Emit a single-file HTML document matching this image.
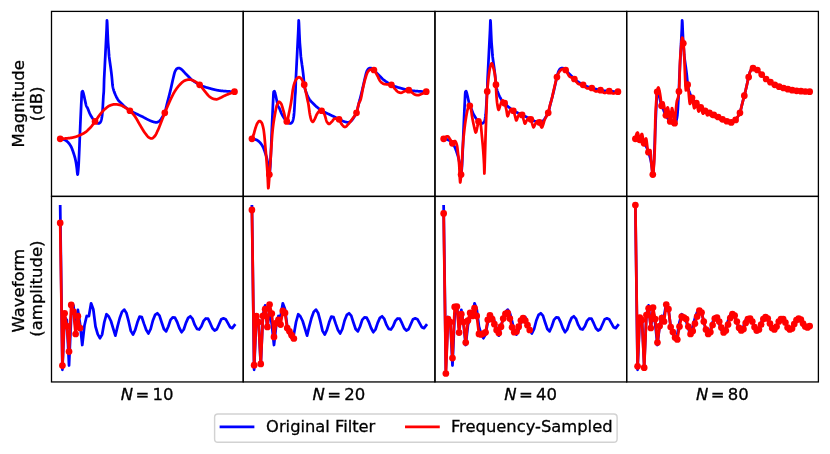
<!DOCTYPE html>
<html><head><meta charset="utf-8"><title>Frequency-Sampled Filter</title>
<style>html,body{margin:0;padding:0;background:#fff}svg{display:block}</style></head>
<body>
<svg width="830" height="454" viewBox="0 0 830 454">
<rect width="830" height="454" fill="#fff"/>
<g fill="none" stroke-width="2.75" stroke-linejoin="round" stroke-linecap="square">
<path d="M60.20 138.80 L60.45 138.83 L60.70 138.86 L60.95 138.90 L61.20 138.94 L61.45 138.98 L61.70 139.03 L61.95 139.08 L62.20 139.13 L62.45 139.19 L62.50 139.20 L62.70 139.25 L62.95 139.31 L63.20 139.37 L63.45 139.44 L63.70 139.52 L63.95 139.60 L64.20 139.68 L64.45 139.77 L64.70 139.87 L64.95 139.98 L65.00 140.00 L65.20 140.10 L65.45 140.23 L65.70 140.38 L65.95 140.55 L66.20 140.73 L66.45 140.93 L66.70 141.13 L66.95 141.34 L67.20 141.56 L67.45 141.79 L67.70 142.02 L67.95 142.25 L68.00 142.30 L68.20 142.50 L68.45 142.76 L68.70 143.05 L68.90 143.30 L68.95 143.36 L69.20 143.69 L69.45 144.02 L69.70 144.37 L69.95 144.73 L70.20 145.12 L70.45 145.52 L70.70 145.95 L70.95 146.41 L71.00 146.50 L71.20 146.89 L71.45 147.42 L71.70 147.99 L71.95 148.59 L72.20 149.23 L72.45 149.89 L72.70 150.58 L72.95 151.29 L73.20 152.01 L73.30 152.30 L73.45 152.74 L73.70 153.49 L73.95 154.25 L74.20 155.04 L74.45 155.87 L74.70 156.75 L74.95 157.69 L75.20 158.69 L75.45 159.77 L75.50 160.00 L75.70 160.98 L75.95 162.36 L76.20 163.90 L76.45 165.55 L76.70 167.29 L76.80 168.00 L76.95 169.32 L77.20 172.01 L77.45 174.15 L77.60 174.60 L77.70 174.44 L77.95 172.91 L78.20 170.33 L78.40 168.00 L78.45 167.38 L78.70 163.30 L78.95 158.04 L79.20 152.29 L79.30 150.00 L79.45 146.40 L79.70 139.82 L79.95 133.24 L80.00 132.00 L80.20 127.19 L80.45 121.38 L80.60 118.00 L80.70 115.77 L80.95 110.28 L81.20 105.00 L81.40 101.00 L81.45 99.97 L81.70 94.40 L81.90 92.00 L81.95 91.89 L82.20 91.46 L82.45 91.24 L82.60 91.20 L82.70 91.26 L82.95 91.83 L83.20 92.67 L83.30 93.00 L83.45 93.50 L83.70 94.45 L83.95 95.51 L84.20 96.65 L84.45 97.81 L84.70 98.98 L84.95 100.09 L85.00 100.30 L85.20 101.18 L85.45 102.34 L85.70 103.49 L85.95 104.54 L86.20 105.42 L86.30 105.70 L86.45 106.06 L86.70 106.57 L86.95 107.01 L87.20 107.43 L87.45 107.90 L87.50 108.00 L87.70 108.44 L87.95 109.02 L88.20 109.63 L88.45 110.27 L88.70 110.91 L88.95 111.55 L89.20 112.18 L89.45 112.79 L89.70 113.37 L89.95 113.90 L90.00 114.00 L90.20 114.39 L90.45 114.87 L90.70 115.33 L90.95 115.78 L91.20 116.22 L91.45 116.64 L91.70 117.05 L91.95 117.45 L92.20 117.84 L92.45 118.22 L92.70 118.58 L92.95 118.93 L93.00 119.00 L93.20 119.27 L93.45 119.60 L93.70 119.92 L93.95 120.23 L94.20 120.53 L94.45 120.82 L94.70 121.09 L94.95 121.35 L95.10 121.50 L95.20 121.60 L95.45 121.85 L95.70 122.08 L95.95 122.31 L96.20 122.50 L96.45 122.67 L96.50 122.70 L96.70 122.81 L96.95 122.95 L97.20 123.09 L97.45 123.22 L97.70 123.33 L97.95 123.41 L98.20 123.47 L98.45 123.50 L98.50 123.50 L98.70 123.48 L98.95 123.41 L99.20 123.29 L99.45 123.13 L99.70 122.94 L99.95 122.74 L100.00 122.70 L100.20 122.50 L100.45 122.14 L100.70 121.68 L100.95 121.12 L101.00 121.00 L101.20 120.42 L101.45 119.48 L101.70 118.27 L101.95 116.78 L102.20 115.00 L102.45 112.21 L102.70 108.30 L102.90 105.00 L102.95 104.16 L103.20 99.45 L103.40 96.00 L103.45 95.33 L103.70 92.58 L103.80 91.00 L103.95 85.78 L104.10 80.00 L104.20 77.58 L104.45 72.79 L104.60 70.00 L104.70 68.00 L104.95 63.00 L105.10 60.00 L105.20 58.00 L105.45 53.00 L105.60 50.00 L105.70 48.00 L105.95 43.00 L106.10 40.00 L106.20 38.03 L106.45 33.15 L106.60 30.00 L106.70 27.25 L106.95 20.60 L107.00 20.30 L107.20 22.74 L107.45 28.91 L107.50 30.00 L107.70 34.44 L107.95 40.07 L108.10 42.80 L108.20 44.20 L108.45 47.02 L108.70 50.00 L108.95 54.33 L109.00 55.00 L109.20 56.98 L109.45 58.89 L109.60 60.00 L109.70 60.76 L109.95 62.55 L110.20 64.29 L110.30 65.00 L110.45 66.06 L110.70 67.80 L110.95 69.62 L111.00 70.00 L111.20 71.58 L111.45 73.67 L111.60 75.00 L111.70 75.93 L111.95 78.43 L112.10 80.00 L112.20 81.15 L112.45 84.24 L112.60 85.60 L112.70 86.23 L112.95 87.55 L113.20 88.60 L113.45 89.49 L113.60 90.00 L113.70 90.33 L113.95 91.11 L114.20 91.83 L114.45 92.50 L114.70 93.13 L114.95 93.73 L115.20 94.31 L115.45 94.88 L115.50 95.00 L115.70 95.45 L115.95 96.00 L116.20 96.53 L116.45 97.03 L116.70 97.51 L116.80 97.70 L116.95 97.98 L117.20 98.43 L117.45 98.88 L117.70 99.31 L117.95 99.71 L118.20 100.09 L118.45 100.44 L118.50 100.50 L118.70 100.75 L118.95 101.03 L119.20 101.30 L119.45 101.56 L119.70 101.80 L119.95 102.03 L120.20 102.26 L120.45 102.49 L120.70 102.72 L120.95 102.96 L121.20 103.20 L121.45 103.45 L121.70 103.71 L121.95 103.96 L122.20 104.22 L122.45 104.48 L122.70 104.73 L122.95 104.99 L123.20 105.24 L123.45 105.48 L123.70 105.72 L123.95 105.95 L124.00 106.00 L124.20 106.18 L124.45 106.40 L124.70 106.62 L124.95 106.83 L125.20 107.04 L125.45 107.25 L125.70 107.46 L125.95 107.66 L126.20 107.86 L126.45 108.06 L126.70 108.26 L126.95 108.46 L127.00 108.50 L127.20 108.66 L127.45 108.87 L127.70 109.07 L127.95 109.28 L128.20 109.48 L128.45 109.69 L128.70 109.89 L128.95 110.08 L129.20 110.27 L129.45 110.44 L129.70 110.61 L129.95 110.77 L130.00 110.80 L130.20 110.92 L130.45 111.06 L130.70 111.19 L130.95 111.32 L131.20 111.44 L131.45 111.56 L131.70 111.67 L131.95 111.79 L132.20 111.90 L132.45 112.01 L132.70 112.12 L132.95 112.22 L133.20 112.33 L133.45 112.45 L133.70 112.56 L133.95 112.68 L134.00 112.70 L134.20 112.80 L134.45 112.91 L134.70 113.03 L134.95 113.15 L135.20 113.27 L135.45 113.39 L135.70 113.51 L135.95 113.63 L136.20 113.75 L136.45 113.87 L136.70 113.99 L136.95 114.11 L137.20 114.23 L137.45 114.35 L137.70 114.47 L137.95 114.59 L138.20 114.71 L138.45 114.83 L138.60 114.90 L138.70 114.95 L138.95 115.07 L139.20 115.18 L139.45 115.30 L139.70 115.42 L139.95 115.54 L140.20 115.65 L140.45 115.77 L140.70 115.89 L140.95 116.01 L141.20 116.12 L141.45 116.24 L141.70 116.36 L141.95 116.48 L142.20 116.60 L142.45 116.73 L142.70 116.85 L142.95 116.97 L143.00 117.00 L143.20 117.10 L143.45 117.23 L143.70 117.36 L143.95 117.50 L144.20 117.63 L144.45 117.77 L144.70 117.91 L144.95 118.05 L145.20 118.18 L145.45 118.32 L145.70 118.46 L145.95 118.60 L146.20 118.73 L146.45 118.86 L146.70 119.00 L146.95 119.12 L147.20 119.25 L147.30 119.30 L147.45 119.37 L147.70 119.50 L147.95 119.62 L148.20 119.74 L148.45 119.87 L148.70 119.99 L148.95 120.11 L149.20 120.22 L149.45 120.34 L149.70 120.45 L149.95 120.57 L150.20 120.67 L150.45 120.78 L150.70 120.88 L150.95 120.98 L151.00 121.00 L151.20 121.08 L151.45 121.17 L151.70 121.27 L151.95 121.36 L152.20 121.45 L152.45 121.54 L152.70 121.63 L152.95 121.71 L153.20 121.79 L153.45 121.86 L153.70 121.93 L153.95 121.99 L154.00 122.00 L154.20 122.05 L154.45 122.11 L154.70 122.16 L154.95 122.22 L155.20 122.27 L155.45 122.32 L155.70 122.36 L155.95 122.39 L156.20 122.40 L156.30 122.40 L156.45 122.40 L156.70 122.37 L156.95 122.32 L157.20 122.25 L157.45 122.16 L157.70 122.07 L157.95 121.96 L158.20 121.84 L158.45 121.72 L158.50 121.70 L158.70 121.59 L158.95 121.42 L159.20 121.21 L159.45 120.97 L159.70 120.71 L159.95 120.44 L160.20 120.15 L160.45 119.86 L160.50 119.80 L160.70 119.56 L160.95 119.22 L161.20 118.87 L161.45 118.49 L161.70 118.10 L161.95 117.69 L162.20 117.29 L162.45 116.88 L162.50 116.80 L162.70 116.49 L162.95 116.11 L163.20 115.74 L163.45 115.36 L163.70 114.97 L163.95 114.55 L164.20 114.10 L164.45 113.60 L164.70 113.04 L164.80 112.80 L164.95 112.39 L165.20 111.56 L165.45 110.58 L165.70 109.50 L165.95 108.38 L166.20 107.27 L166.45 106.20 L166.50 106.00 L166.70 105.20 L166.95 104.19 L167.20 103.19 L167.45 102.18 L167.70 101.18 L167.95 100.20 L168.00 100.00 L168.20 99.22 L168.45 98.27 L168.70 97.32 L168.95 96.36 L169.20 95.39 L169.30 95.00 L169.45 94.40 L169.70 93.40 L169.95 92.38 L170.20 91.35 L170.45 90.31 L170.70 89.27 L170.95 88.21 L171.00 88.00 L171.20 87.14 L171.45 86.04 L171.70 84.92 L171.95 83.78 L172.20 82.64 L172.45 81.51 L172.70 80.39 L172.95 79.29 L173.20 78.22 L173.45 77.20 L173.50 77.00 L173.70 76.19 L173.95 75.14 L174.20 74.10 L174.45 73.14 L174.70 72.29 L174.95 71.61 L175.00 71.50 L175.20 71.08 L175.45 70.59 L175.70 70.14 L175.95 69.73 L176.20 69.37 L176.45 69.06 L176.70 68.81 L176.95 68.63 L177.00 68.60 L177.20 68.49 L177.45 68.37 L177.70 68.26 L177.95 68.16 L178.20 68.08 L178.45 68.03 L178.70 68.00 L178.80 68.00 L178.95 68.01 L179.20 68.06 L179.45 68.15 L179.70 68.26 L179.95 68.39 L180.20 68.53 L180.45 68.67 L180.50 68.70 L180.70 68.81 L180.95 68.98 L181.20 69.16 L181.45 69.36 L181.70 69.56 L181.95 69.78 L182.20 70.00 L182.45 70.23 L182.70 70.47 L182.95 70.73 L183.20 71.00 L183.45 71.28 L183.70 71.56 L183.95 71.84 L184.20 72.13 L184.45 72.41 L184.70 72.68 L184.95 72.95 L185.00 73.00 L185.20 73.21 L185.45 73.46 L185.70 73.71 L185.95 73.96 L186.20 74.21 L186.45 74.46 L186.70 74.70 L186.95 74.95 L187.20 75.20 L187.45 75.45 L187.70 75.70 L187.95 75.95 L188.00 76.00 L188.20 76.21 L188.45 76.47 L188.70 76.74 L188.95 77.01 L189.20 77.28 L189.45 77.55 L189.70 77.82 L189.95 78.09 L190.20 78.34 L190.45 78.59 L190.70 78.82 L190.90 79.00 L190.95 79.04 L191.20 79.26 L191.45 79.46 L191.70 79.66 L191.95 79.86 L192.20 80.05 L192.45 80.24 L192.70 80.42 L192.95 80.60 L193.20 80.78 L193.45 80.95 L193.70 81.13 L193.95 81.30 L194.20 81.47 L194.45 81.63 L194.70 81.80 L194.95 81.97 L195.00 82.00 L195.20 82.13 L195.45 82.30 L195.70 82.47 L195.95 82.63 L196.20 82.80 L196.45 82.96 L196.70 83.12 L196.95 83.28 L197.20 83.44 L197.45 83.59 L197.70 83.75 L197.95 83.90 L198.20 84.04 L198.45 84.19 L198.70 84.33 L198.95 84.47 L199.20 84.60 L199.45 84.73 L199.60 84.80 L199.70 84.85 L199.95 84.97 L200.20 85.09 L200.45 85.20 L200.70 85.32 L200.95 85.43 L201.20 85.54 L201.45 85.65 L201.70 85.76 L201.95 85.86 L202.20 85.96 L202.45 86.06 L202.70 86.16 L202.95 86.26 L203.20 86.36 L203.45 86.45 L203.70 86.54 L203.95 86.63 L204.20 86.72 L204.45 86.81 L204.70 86.90 L204.95 86.98 L205.00 87.00 L205.20 87.07 L205.45 87.15 L205.70 87.23 L205.95 87.30 L206.20 87.38 L206.45 87.45 L206.70 87.52 L206.95 87.59 L207.20 87.66 L207.45 87.73 L207.70 87.80 L207.95 87.87 L208.20 87.94 L208.40 88.00 L208.45 88.01 L208.70 88.09 L208.95 88.16 L209.20 88.23 L209.45 88.30 L209.70 88.37 L209.95 88.44 L210.20 88.51 L210.45 88.58 L210.70 88.65 L210.95 88.72 L211.20 88.79 L211.45 88.86 L211.70 88.92 L211.95 88.99 L212.00 89.00 L212.20 89.05 L212.45 89.12 L212.70 89.18 L212.95 89.24 L213.20 89.31 L213.45 89.37 L213.70 89.43 L213.95 89.50 L214.20 89.56 L214.45 89.62 L214.70 89.68 L214.95 89.74 L215.20 89.80 L215.45 89.86 L215.70 89.91 L215.95 89.97 L216.20 90.02 L216.45 90.07 L216.70 90.12 L216.95 90.17 L217.10 90.20 L217.20 90.22 L217.45 90.26 L217.70 90.31 L217.95 90.35 L218.20 90.40 L218.45 90.44 L218.70 90.48 L218.95 90.52 L219.20 90.56 L219.45 90.60 L219.70 90.63 L219.95 90.67 L220.20 90.70 L220.45 90.74 L220.70 90.77 L220.95 90.79 L221.00 90.80 L221.20 90.82 L221.45 90.85 L221.70 90.87 L221.95 90.90 L222.20 90.92 L222.45 90.94 L222.70 90.96 L222.95 90.98 L223.20 91.00 L223.45 91.02 L223.70 91.04 L223.95 91.06 L224.20 91.08 L224.45 91.10 L224.70 91.12 L224.95 91.14 L225.20 91.15 L225.45 91.17 L225.70 91.19 L225.80 91.20 L225.95 91.21 L226.20 91.23 L226.45 91.25 L226.70 91.27 L226.95 91.29 L227.20 91.31 L227.45 91.33 L227.70 91.35 L227.95 91.37 L228.20 91.38 L228.45 91.40 L228.70 91.42 L228.95 91.44 L229.20 91.45 L229.45 91.47 L229.70 91.48 L229.95 91.50 L230.00 91.50 L230.20 91.51 L230.45 91.52 L230.70 91.54 L230.95 91.55 L231.20 91.56 L231.45 91.58 L231.70 91.59 L231.95 91.60 L232.20 91.61 L232.45 91.62 L232.70 91.63 L232.95 91.64 L233.20 91.65 L233.45 91.66 L233.70 91.67 L233.95 91.68 L234.20 91.69 L234.45 91.70 L234.50 91.70" stroke="#0000ff"/>
<path d="M60.20 138.80 L60.45 138.79 L60.70 138.78 L60.95 138.76 L61.20 138.75 L61.45 138.74 L61.70 138.72 L61.95 138.71 L62.20 138.69 L62.45 138.68 L62.70 138.66 L62.95 138.65 L63.20 138.63 L63.45 138.61 L63.70 138.60 L63.95 138.58 L64.20 138.56 L64.45 138.54 L64.70 138.52 L64.95 138.50 L65.00 138.50 L65.20 138.48 L65.45 138.46 L65.70 138.44 L65.95 138.42 L66.20 138.40 L66.45 138.38 L66.70 138.36 L66.95 138.34 L67.20 138.31 L67.45 138.29 L67.70 138.27 L67.95 138.24 L68.20 138.21 L68.45 138.19 L68.70 138.16 L68.95 138.13 L69.20 138.10 L69.45 138.07 L69.70 138.04 L69.95 138.01 L70.00 138.00 L70.20 137.97 L70.45 137.94 L70.70 137.90 L70.95 137.86 L71.20 137.82 L71.45 137.78 L71.70 137.73 L71.95 137.69 L72.20 137.64 L72.45 137.59 L72.70 137.54 L72.95 137.49 L73.20 137.43 L73.45 137.38 L73.70 137.32 L73.95 137.26 L74.20 137.20 L74.45 137.14 L74.70 137.08 L74.95 137.01 L75.00 137.00 L75.20 136.95 L75.45 136.88 L75.70 136.80 L75.95 136.72 L76.20 136.64 L76.45 136.55 L76.70 136.46 L76.95 136.37 L77.20 136.28 L77.45 136.18 L77.70 136.08 L77.95 135.98 L78.20 135.88 L78.45 135.77 L78.70 135.67 L78.95 135.56 L79.20 135.45 L79.45 135.34 L79.70 135.23 L79.95 135.12 L80.00 135.10 L80.20 135.01 L80.45 134.90 L80.70 134.79 L80.95 134.68 L81.20 134.56 L81.45 134.45 L81.70 134.33 L81.95 134.21 L82.20 134.09 L82.45 133.96 L82.70 133.84 L82.95 133.71 L83.20 133.57 L83.45 133.44 L83.70 133.30 L83.95 133.15 L84.20 133.00 L84.45 132.85 L84.70 132.69 L84.95 132.53 L85.00 132.50 L85.20 132.37 L85.45 132.19 L85.70 132.01 L85.95 131.82 L86.20 131.62 L86.45 131.42 L86.70 131.21 L86.95 130.99 L87.20 130.77 L87.45 130.54 L87.70 130.31 L87.95 130.07 L88.20 129.83 L88.45 129.59 L88.70 129.34 L88.95 129.09 L89.20 128.83 L89.45 128.57 L89.70 128.31 L89.95 128.05 L90.00 128.00 L90.20 127.79 L90.45 127.51 L90.70 127.23 L90.95 126.95 L91.20 126.65 L91.45 126.35 L91.70 126.05 L91.95 125.73 L92.20 125.42 L92.45 125.10 L92.70 124.77 L92.95 124.45 L93.20 124.12 L93.45 123.78 L93.70 123.45 L93.95 123.11 L94.20 122.78 L94.45 122.44 L94.70 122.10 L94.95 121.77 L95.00 121.70 L95.20 121.43 L95.45 121.08 L95.70 120.73 L95.95 120.36 L96.20 120.00 L96.45 119.62 L96.70 119.25 L96.95 118.87 L97.20 118.49 L97.45 118.12 L97.70 117.74 L97.95 117.36 L98.20 116.99 L98.45 116.62 L98.70 116.26 L98.95 115.90 L99.20 115.55 L99.45 115.21 L99.70 114.88 L99.95 114.56 L100.00 114.50 L100.20 114.25 L100.45 113.94 L100.70 113.63 L100.95 113.33 L101.20 113.02 L101.45 112.72 L101.70 112.43 L101.95 112.13 L102.20 111.85 L102.45 111.56 L102.70 111.28 L102.95 111.01 L103.20 110.74 L103.45 110.48 L103.70 110.22 L103.95 109.97 L104.20 109.73 L104.45 109.49 L104.70 109.26 L104.95 109.04 L105.00 109.00 L105.20 108.83 L105.45 108.61 L105.70 108.40 L105.95 108.19 L106.20 107.98 L106.45 107.77 L106.70 107.56 L106.95 107.36 L107.20 107.17 L107.45 106.98 L107.70 106.79 L107.95 106.61 L108.20 106.44 L108.45 106.28 L108.70 106.13 L108.95 105.98 L109.20 105.85 L109.45 105.73 L109.70 105.62 L109.95 105.52 L110.00 105.50 L110.20 105.43 L110.45 105.34 L110.70 105.25 L110.95 105.16 L111.20 105.08 L111.45 104.99 L111.70 104.91 L111.95 104.84 L112.20 104.76 L112.45 104.69 L112.70 104.62 L112.95 104.56 L113.20 104.51 L113.45 104.46 L113.70 104.41 L113.95 104.37 L114.20 104.34 L114.45 104.32 L114.70 104.31 L114.95 104.30 L115.00 104.30 L115.20 104.30 L115.45 104.31 L115.70 104.32 L115.95 104.33 L116.20 104.35 L116.45 104.38 L116.70 104.40 L116.95 104.43 L117.20 104.47 L117.45 104.51 L117.70 104.55 L117.95 104.59 L118.20 104.63 L118.45 104.68 L118.70 104.73 L118.95 104.78 L119.20 104.83 L119.45 104.88 L119.70 104.93 L119.95 104.99 L120.00 105.00 L120.20 105.05 L120.45 105.12 L120.70 105.20 L120.95 105.29 L121.20 105.39 L121.45 105.50 L121.70 105.62 L121.95 105.74 L122.20 105.87 L122.45 106.00 L122.70 106.14 L122.95 106.29 L123.20 106.43 L123.45 106.58 L123.70 106.73 L123.95 106.88 L124.20 107.03 L124.45 107.18 L124.70 107.33 L124.95 107.47 L125.00 107.50 L125.20 107.61 L125.45 107.76 L125.70 107.90 L125.95 108.04 L126.20 108.19 L126.45 108.34 L126.70 108.49 L126.95 108.64 L127.20 108.79 L127.45 108.95 L127.70 109.11 L127.95 109.28 L128.20 109.44 L128.45 109.62 L128.70 109.79 L128.95 109.98 L129.20 110.16 L129.45 110.36 L129.70 110.55 L129.95 110.76 L130.00 110.80 L130.20 110.97 L130.45 111.19 L130.70 111.42 L130.95 111.66 L131.20 111.91 L131.45 112.16 L131.70 112.43 L131.95 112.70 L132.20 112.98 L132.45 113.26 L132.70 113.55 L132.95 113.85 L133.20 114.16 L133.45 114.47 L133.70 114.78 L133.95 115.10 L134.20 115.43 L134.45 115.76 L134.70 116.09 L134.95 116.43 L135.00 116.50 L135.20 116.78 L135.45 117.14 L135.70 117.52 L135.95 117.91 L136.20 118.32 L136.45 118.74 L136.70 119.16 L136.95 119.60 L137.20 120.04 L137.45 120.48 L137.70 120.93 L137.95 121.39 L138.20 121.84 L138.45 122.29 L138.70 122.74 L138.95 123.19 L139.20 123.63 L139.45 124.07 L139.70 124.50 L139.95 124.92 L140.00 125.00 L140.20 125.33 L140.45 125.75 L140.70 126.17 L140.95 126.59 L141.20 127.02 L141.45 127.44 L141.70 127.87 L141.95 128.29 L142.20 128.71 L142.45 129.13 L142.70 129.54 L142.95 129.95 L143.20 130.35 L143.45 130.75 L143.70 131.14 L143.95 131.52 L144.20 131.89 L144.45 132.25 L144.70 132.60 L144.95 132.93 L145.00 133.00 L145.20 133.26 L145.45 133.60 L145.70 133.93 L145.95 134.27 L146.20 134.60 L146.45 134.93 L146.70 135.25 L146.95 135.56 L147.20 135.86 L147.45 136.15 L147.70 136.42 L147.95 136.67 L148.20 136.91 L148.45 137.12 L148.70 137.31 L148.95 137.47 L149.00 137.50 L149.20 137.61 L149.45 137.76 L149.70 137.90 L149.95 138.03 L150.20 138.15 L150.45 138.26 L150.70 138.36 L150.95 138.43 L151.20 138.48 L151.45 138.50 L151.50 138.50 L151.70 138.49 L151.95 138.43 L152.20 138.35 L152.45 138.22 L152.70 138.08 L152.95 137.90 L153.20 137.71 L153.45 137.49 L153.70 137.27 L153.95 137.03 L154.20 136.79 L154.45 136.55 L154.50 136.50 L154.70 136.29 L154.95 135.98 L155.20 135.63 L155.45 135.23 L155.70 134.80 L155.95 134.34 L156.20 133.86 L156.45 133.35 L156.70 132.82 L156.95 132.28 L157.20 131.74 L157.45 131.19 L157.70 130.64 L157.95 130.11 L158.00 130.00 L158.20 129.57 L158.45 129.01 L158.70 128.43 L158.95 127.84 L159.20 127.23 L159.45 126.61 L159.70 125.98 L159.95 125.34 L160.20 124.69 L160.45 124.03 L160.70 123.38 L160.95 122.72 L161.20 122.07 L161.45 121.41 L161.70 120.77 L161.95 120.13 L162.00 120.00 L162.20 119.49 L162.45 118.85 L162.70 118.20 L162.95 117.55 L163.20 116.89 L163.45 116.24 L163.70 115.59 L163.95 114.94 L164.20 114.30 L164.45 113.67 L164.70 113.05 L164.80 112.80 L164.95 112.43 L165.20 111.82 L165.45 111.22 L165.70 110.62 L165.95 110.03 L166.20 109.43 L166.45 108.85 L166.70 108.26 L166.95 107.68 L167.20 107.10 L167.45 106.53 L167.70 105.95 L167.95 105.38 L168.20 104.81 L168.45 104.24 L168.70 103.68 L168.95 103.11 L169.00 103.00 L169.20 102.55 L169.45 101.98 L169.70 101.41 L169.95 100.85 L170.20 100.29 L170.45 99.73 L170.70 99.18 L170.95 98.65 L171.20 98.12 L171.45 97.60 L171.50 97.50 L171.70 97.10 L171.95 96.59 L172.20 96.09 L172.45 95.59 L172.70 95.10 L172.95 94.61 L173.20 94.14 L173.45 93.66 L173.70 93.20 L173.95 92.75 L174.20 92.31 L174.45 91.89 L174.70 91.48 L174.95 91.08 L175.00 91.00 L175.20 90.69 L175.45 90.31 L175.70 89.94 L175.95 89.57 L176.20 89.20 L176.45 88.84 L176.70 88.49 L176.95 88.14 L177.20 87.80 L177.45 87.47 L177.70 87.14 L177.95 86.82 L178.20 86.51 L178.45 86.21 L178.70 85.91 L178.95 85.62 L179.20 85.34 L179.45 85.07 L179.70 84.80 L179.95 84.55 L180.00 84.50 L180.20 84.30 L180.45 84.05 L180.70 83.80 L180.95 83.55 L181.20 83.31 L181.45 83.06 L181.70 82.83 L181.95 82.59 L182.20 82.36 L182.45 82.14 L182.70 81.93 L182.95 81.72 L183.20 81.53 L183.45 81.34 L183.70 81.17 L183.95 81.01 L184.20 80.86 L184.45 80.73 L184.70 80.62 L184.95 80.52 L185.00 80.50 L185.20 80.43 L185.45 80.35 L185.70 80.26 L185.95 80.18 L186.20 80.10 L186.45 80.03 L186.70 79.95 L186.95 79.88 L187.20 79.82 L187.45 79.76 L187.70 79.70 L187.95 79.65 L188.20 79.61 L188.45 79.57 L188.70 79.54 L188.95 79.52 L189.20 79.51 L189.45 79.50 L189.50 79.50 L189.70 79.50 L189.95 79.52 L190.20 79.56 L190.45 79.60 L190.70 79.66 L190.95 79.73 L191.20 79.80 L191.45 79.89 L191.70 79.98 L191.95 80.08 L192.20 80.18 L192.45 80.29 L192.70 80.41 L192.95 80.52 L193.20 80.64 L193.45 80.75 L193.70 80.87 L193.95 80.98 L194.00 81.00 L194.20 81.09 L194.45 81.21 L194.70 81.33 L194.95 81.46 L195.20 81.60 L195.45 81.74 L195.70 81.89 L195.95 82.04 L196.20 82.20 L196.45 82.37 L196.70 82.53 L196.95 82.71 L197.20 82.89 L197.45 83.07 L197.70 83.26 L197.95 83.45 L198.20 83.65 L198.45 83.85 L198.70 84.05 L198.95 84.26 L199.20 84.47 L199.45 84.69 L199.70 84.91 L199.80 85.00 L199.95 85.14 L200.20 85.38 L200.45 85.64 L200.70 85.92 L200.95 86.20 L201.20 86.51 L201.45 86.82 L201.70 87.14 L201.95 87.47 L202.20 87.80 L202.45 88.14 L202.70 88.48 L202.95 88.82 L203.20 89.17 L203.45 89.51 L203.70 89.85 L203.95 90.18 L204.20 90.51 L204.45 90.83 L204.70 91.14 L204.95 91.44 L205.00 91.50 L205.20 91.74 L205.45 92.04 L205.70 92.34 L205.95 92.65 L206.20 92.96 L206.45 93.27 L206.70 93.58 L206.95 93.89 L207.20 94.20 L207.45 94.50 L207.70 94.79 L207.95 95.08 L208.20 95.36 L208.45 95.63 L208.70 95.89 L208.95 96.13 L209.20 96.37 L209.45 96.58 L209.70 96.78 L209.95 96.97 L210.00 97.00 L210.20 97.14 L210.45 97.30 L210.70 97.47 L210.95 97.63 L211.20 97.78 L211.45 97.94 L211.70 98.08 L211.95 98.22 L212.20 98.35 L212.45 98.47 L212.70 98.59 L212.95 98.69 L213.20 98.78 L213.45 98.87 L213.70 98.93 L213.95 98.99 L214.00 99.00 L214.20 99.04 L214.45 99.08 L214.70 99.12 L214.95 99.16 L215.20 99.20 L215.45 99.23 L215.70 99.26 L215.95 99.28 L216.20 99.29 L216.45 99.30 L216.50 99.30 L216.70 99.29 L216.95 99.26 L217.20 99.21 L217.45 99.14 L217.70 99.06 L217.95 98.96 L218.20 98.86 L218.45 98.74 L218.70 98.62 L218.95 98.50 L219.20 98.37 L219.45 98.25 L219.70 98.13 L219.95 98.02 L220.00 98.00 L220.20 97.91 L220.45 97.80 L220.70 97.69 L220.95 97.57 L221.20 97.44 L221.45 97.32 L221.70 97.19 L221.95 97.06 L222.20 96.92 L222.45 96.79 L222.70 96.66 L222.95 96.52 L223.20 96.39 L223.45 96.26 L223.70 96.13 L223.95 96.00 L224.20 95.88 L224.45 95.75 L224.70 95.64 L224.95 95.52 L225.00 95.50 L225.20 95.41 L225.45 95.30 L225.70 95.20 L225.95 95.09 L226.20 94.99 L226.45 94.89 L226.70 94.79 L226.95 94.69 L227.20 94.59 L227.45 94.49 L227.70 94.39 L227.95 94.30 L228.20 94.20 L228.45 94.11 L228.70 94.01 L228.95 93.91 L229.20 93.82 L229.45 93.72 L229.70 93.62 L229.95 93.52 L230.00 93.50 L230.20 93.42 L230.45 93.32 L230.70 93.22 L230.95 93.12 L231.20 93.02 L231.45 92.92 L231.70 92.82 L231.95 92.72 L232.20 92.62 L232.45 92.52 L232.70 92.42 L232.95 92.32 L233.20 92.22 L233.45 92.12 L233.70 92.02 L233.95 91.92 L234.20 91.82 L234.45 91.72 L234.50 91.70" stroke="#ff0000"/>
<g fill="#ff0000" stroke="none"><circle cx="60.20" cy="138.80" r="3.35"/><circle cx="95.06" cy="121.46" r="3.35"/><circle cx="129.92" cy="110.75" r="3.35"/><circle cx="164.78" cy="112.85" r="3.35"/><circle cx="199.64" cy="84.82" r="3.35"/><circle cx="234.50" cy="91.70" r="3.35"/></g>
<path d="M60.20 206.40 L62.41 369.80 L64.61 317.00 L66.82 320.00 L69.03 365.50 L71.23 315.00 L73.44 305.30 L75.64 328.00 L77.85 309.80 L80.06 324.00 L82.26 345.00 L84.47 325.50 L86.68 316.00 L88.88 316.20 L91.09 303.30 L93.29 309.30 L95.50 326.50 L97.71 334.20 L99.91 338.20 L102.12 334.60 L104.33 322.00 L106.53 314.20 L108.74 316.50 L110.95 321.00 L113.15 328.30 L115.36 335.60 L117.56 326.40 L119.77 318.00 L121.98 311.90 L124.18 309.60 L126.39 312.90 L128.60 321.20 L130.80 330.90 L133.01 334.60 L135.22 329.90 L137.42 322.30 L139.63 316.60 L141.83 317.20 L144.04 323.90 L146.25 330.00 L148.45 333.50 L150.66 329.00 L152.87 320.50 L155.07 314.90 L157.28 313.30 L159.48 315.60 L161.69 322.50 L163.90 329.00 L166.10 331.40 L168.31 326.50 L170.52 319.90 L172.72 317.40 L174.93 317.70 L177.14 322.00 L179.34 328.00 L181.55 332.20 L183.75 329.50 L185.96 322.90 L188.17 317.90 L190.37 316.30 L192.58 318.90 L194.79 324.90 L196.99 328.90 L199.20 329.50 L201.41 326.20 L203.61 320.90 L205.82 318.50 L208.02 318.60 L210.23 323.20 L212.44 328.20 L214.64 330.50 L216.85 329.20 L219.06 324.20 L221.26 319.20 L223.47 318.40 L225.67 319.20 L227.88 323.20 L230.09 327.20 L232.29 328.20 L234.50 325.30" stroke="#0000ff"/>
<path d="M60.20 222.90 L62.41 365.60 L64.61 313.30 L66.82 326.00 L69.03 351.60 L71.23 304.90 L73.44 311.50 L75.64 334.00 L77.85 316.20 L80.06 328.00" stroke="#ff0000"/>
<g fill="#ff0000" stroke="none"><circle cx="60.20" cy="222.90" r="3.35"/><circle cx="62.41" cy="365.60" r="3.35"/><circle cx="64.61" cy="313.30" r="3.35"/><circle cx="66.82" cy="326.00" r="3.35"/><circle cx="69.03" cy="351.60" r="3.35"/><circle cx="71.23" cy="304.90" r="3.35"/><circle cx="73.44" cy="311.50" r="3.35"/><circle cx="75.64" cy="334.00" r="3.35"/><circle cx="77.85" cy="316.20" r="3.35"/><circle cx="80.06" cy="328.00" r="3.35"/></g>
<path d="M251.93 138.80 L252.18 138.83 L252.43 138.86 L252.68 138.90 L252.93 138.94 L253.18 138.98 L253.43 139.03 L253.68 139.08 L253.93 139.13 L254.18 139.19 L254.22 139.20 L254.43 139.25 L254.68 139.31 L254.93 139.37 L255.18 139.44 L255.43 139.52 L255.68 139.60 L255.93 139.68 L256.18 139.77 L256.43 139.87 L256.68 139.98 L256.73 140.00 L256.93 140.10 L257.18 140.23 L257.43 140.38 L257.68 140.55 L257.93 140.73 L258.18 140.93 L258.43 141.13 L258.68 141.34 L258.93 141.56 L259.18 141.79 L259.43 142.02 L259.68 142.25 L259.73 142.30 L259.93 142.50 L260.18 142.76 L260.43 143.05 L260.62 143.30 L260.68 143.36 L260.93 143.69 L261.18 144.02 L261.43 144.37 L261.68 144.73 L261.93 145.12 L262.18 145.52 L262.43 145.95 L262.68 146.41 L262.73 146.50 L262.93 146.89 L263.18 147.42 L263.43 147.99 L263.68 148.59 L263.93 149.23 L264.18 149.89 L264.43 150.58 L264.68 151.29 L264.93 152.01 L265.02 152.30 L265.18 152.74 L265.43 153.49 L265.68 154.25 L265.93 155.04 L266.18 155.87 L266.43 156.75 L266.68 157.69 L266.93 158.69 L267.18 159.77 L267.23 160.00 L267.43 160.98 L267.68 162.36 L267.93 163.90 L268.18 165.55 L268.43 167.29 L268.52 168.00 L268.68 169.32 L268.93 172.01 L269.18 174.15 L269.32 174.60 L269.43 174.44 L269.68 172.91 L269.93 170.33 L270.12 168.00 L270.18 167.38 L270.43 163.30 L270.68 158.04 L270.93 152.29 L271.02 150.00 L271.18 146.40 L271.43 139.82 L271.68 133.24 L271.73 132.00 L271.93 127.19 L272.18 121.38 L272.32 118.00 L272.43 115.77 L272.68 110.28 L272.93 105.00 L273.12 101.00 L273.18 99.97 L273.43 94.40 L273.62 92.00 L273.68 91.89 L273.93 91.46 L274.18 91.24 L274.32 91.20 L274.43 91.26 L274.68 91.83 L274.93 92.67 L275.02 93.00 L275.18 93.50 L275.43 94.45 L275.68 95.51 L275.93 96.65 L276.18 97.81 L276.43 98.98 L276.68 100.09 L276.73 100.30 L276.93 101.18 L277.18 102.34 L277.43 103.49 L277.68 104.54 L277.93 105.42 L278.02 105.70 L278.18 106.06 L278.43 106.57 L278.68 107.01 L278.93 107.43 L279.18 107.90 L279.23 108.00 L279.43 108.44 L279.68 109.02 L279.93 109.63 L280.18 110.27 L280.43 110.91 L280.68 111.55 L280.93 112.18 L281.18 112.79 L281.43 113.37 L281.68 113.90 L281.73 114.00 L281.93 114.39 L282.18 114.87 L282.43 115.33 L282.68 115.78 L282.93 116.22 L283.18 116.64 L283.43 117.05 L283.68 117.45 L283.93 117.84 L284.18 118.22 L284.43 118.58 L284.68 118.93 L284.73 119.00 L284.93 119.27 L285.18 119.60 L285.43 119.92 L285.68 120.23 L285.93 120.53 L286.18 120.82 L286.43 121.09 L286.68 121.35 L286.82 121.50 L286.93 121.60 L287.18 121.85 L287.43 122.08 L287.68 122.31 L287.93 122.50 L288.18 122.67 L288.23 122.70 L288.43 122.81 L288.68 122.95 L288.93 123.09 L289.18 123.22 L289.43 123.33 L289.68 123.41 L289.93 123.47 L290.18 123.50 L290.23 123.50 L290.43 123.48 L290.68 123.41 L290.93 123.29 L291.18 123.13 L291.43 122.94 L291.68 122.74 L291.73 122.70 L291.93 122.50 L292.18 122.14 L292.43 121.68 L292.68 121.12 L292.73 121.00 L292.93 120.42 L293.18 119.48 L293.43 118.27 L293.68 116.78 L293.93 115.00 L294.18 112.21 L294.43 108.30 L294.62 105.00 L294.68 104.16 L294.93 99.45 L295.12 96.00 L295.18 95.33 L295.43 92.58 L295.52 91.00 L295.68 85.78 L295.82 80.00 L295.93 77.58 L296.18 72.79 L296.32 70.00 L296.43 68.00 L296.68 63.00 L296.82 60.00 L296.93 58.00 L297.18 53.00 L297.32 50.00 L297.43 48.00 L297.68 43.00 L297.82 40.00 L297.93 38.03 L298.18 33.15 L298.32 30.00 L298.43 27.25 L298.68 20.60 L298.73 20.30 L298.93 22.74 L299.18 28.91 L299.23 30.00 L299.43 34.44 L299.68 40.07 L299.82 42.80 L299.93 44.20 L300.18 47.02 L300.43 50.00 L300.68 54.33 L300.73 55.00 L300.93 56.98 L301.18 58.89 L301.32 60.00 L301.43 60.76 L301.68 62.55 L301.93 64.29 L302.02 65.00 L302.18 66.06 L302.43 67.80 L302.68 69.62 L302.73 70.00 L302.93 71.58 L303.18 73.67 L303.32 75.00 L303.43 75.93 L303.68 78.43 L303.82 80.00 L303.93 81.15 L304.18 84.24 L304.32 85.60 L304.43 86.23 L304.68 87.55 L304.93 88.60 L305.18 89.49 L305.32 90.00 L305.43 90.33 L305.68 91.11 L305.93 91.83 L306.18 92.50 L306.43 93.13 L306.68 93.73 L306.93 94.31 L307.18 94.88 L307.23 95.00 L307.43 95.45 L307.68 96.00 L307.93 96.53 L308.18 97.03 L308.43 97.51 L308.52 97.70 L308.68 97.98 L308.93 98.43 L309.18 98.88 L309.43 99.31 L309.68 99.71 L309.93 100.09 L310.18 100.44 L310.23 100.50 L310.43 100.75 L310.68 101.03 L310.93 101.30 L311.18 101.56 L311.43 101.80 L311.68 102.03 L311.93 102.26 L312.18 102.49 L312.43 102.72 L312.68 102.96 L312.93 103.20 L313.18 103.45 L313.43 103.71 L313.68 103.96 L313.93 104.22 L314.18 104.48 L314.43 104.73 L314.68 104.99 L314.93 105.24 L315.18 105.48 L315.43 105.72 L315.68 105.95 L315.73 106.00 L315.93 106.18 L316.18 106.40 L316.43 106.62 L316.68 106.83 L316.93 107.04 L317.18 107.25 L317.43 107.46 L317.68 107.66 L317.93 107.86 L318.18 108.06 L318.43 108.26 L318.68 108.46 L318.73 108.50 L318.93 108.66 L319.18 108.87 L319.43 109.07 L319.68 109.28 L319.92 109.48 L320.17 109.69 L320.42 109.89 L320.67 110.08 L320.92 110.27 L321.17 110.44 L321.42 110.61 L321.67 110.77 L321.73 110.80 L321.92 110.92 L322.17 111.06 L322.42 111.19 L322.67 111.32 L322.92 111.44 L323.17 111.56 L323.42 111.67 L323.67 111.79 L323.92 111.90 L324.17 112.01 L324.42 112.12 L324.67 112.22 L324.92 112.33 L325.17 112.45 L325.42 112.56 L325.67 112.68 L325.73 112.70 L325.92 112.80 L326.17 112.91 L326.42 113.03 L326.67 113.15 L326.92 113.27 L327.17 113.39 L327.42 113.51 L327.67 113.63 L327.92 113.75 L328.17 113.87 L328.42 113.99 L328.67 114.11 L328.92 114.23 L329.17 114.35 L329.42 114.47 L329.67 114.59 L329.92 114.71 L330.17 114.83 L330.32 114.90 L330.42 114.95 L330.67 115.07 L330.92 115.18 L331.17 115.30 L331.42 115.42 L331.67 115.54 L331.92 115.65 L332.17 115.77 L332.42 115.89 L332.67 116.01 L332.92 116.12 L333.17 116.24 L333.42 116.36 L333.67 116.48 L333.92 116.60 L334.17 116.73 L334.42 116.85 L334.67 116.97 L334.73 117.00 L334.92 117.10 L335.17 117.23 L335.42 117.36 L335.67 117.50 L335.92 117.63 L336.17 117.77 L336.42 117.91 L336.67 118.05 L336.92 118.18 L337.17 118.32 L337.42 118.46 L337.67 118.60 L337.92 118.73 L338.17 118.86 L338.42 119.00 L338.67 119.12 L338.92 119.25 L339.02 119.30 L339.17 119.37 L339.42 119.50 L339.67 119.62 L339.92 119.74 L340.17 119.87 L340.42 119.99 L340.67 120.11 L340.92 120.22 L341.17 120.34 L341.42 120.45 L341.67 120.57 L341.92 120.67 L342.17 120.78 L342.42 120.88 L342.67 120.98 L342.73 121.00 L342.92 121.08 L343.17 121.17 L343.42 121.27 L343.67 121.36 L343.92 121.45 L344.17 121.54 L344.42 121.63 L344.67 121.71 L344.92 121.79 L345.17 121.86 L345.42 121.93 L345.67 121.99 L345.73 122.00 L345.92 122.05 L346.17 122.11 L346.42 122.16 L346.67 122.22 L346.92 122.27 L347.17 122.32 L347.42 122.36 L347.67 122.39 L347.92 122.40 L348.02 122.40 L348.17 122.40 L348.42 122.37 L348.67 122.32 L348.92 122.25 L349.17 122.16 L349.42 122.07 L349.67 121.96 L349.92 121.84 L350.17 121.72 L350.23 121.70 L350.42 121.59 L350.67 121.42 L350.92 121.21 L351.17 120.97 L351.42 120.71 L351.67 120.44 L351.92 120.15 L352.17 119.86 L352.23 119.80 L352.42 119.56 L352.67 119.22 L352.92 118.87 L353.17 118.49 L353.42 118.10 L353.67 117.69 L353.92 117.29 L354.17 116.88 L354.23 116.80 L354.42 116.49 L354.67 116.11 L354.92 115.74 L355.17 115.36 L355.42 114.97 L355.67 114.55 L355.92 114.10 L356.17 113.60 L356.42 113.04 L356.52 112.80 L356.67 112.39 L356.92 111.56 L357.17 110.58 L357.42 109.50 L357.67 108.38 L357.92 107.27 L358.17 106.20 L358.23 106.00 L358.42 105.20 L358.67 104.19 L358.92 103.19 L359.17 102.18 L359.42 101.18 L359.67 100.20 L359.73 100.00 L359.92 99.22 L360.17 98.27 L360.42 97.32 L360.67 96.36 L360.92 95.39 L361.02 95.00 L361.17 94.40 L361.42 93.40 L361.67 92.38 L361.92 91.35 L362.17 90.31 L362.42 89.27 L362.67 88.21 L362.73 88.00 L362.92 87.14 L363.17 86.04 L363.42 84.92 L363.67 83.78 L363.92 82.64 L364.17 81.51 L364.42 80.39 L364.67 79.29 L364.92 78.22 L365.17 77.20 L365.23 77.00 L365.42 76.19 L365.67 75.14 L365.92 74.10 L366.17 73.14 L366.42 72.29 L366.67 71.61 L366.73 71.50 L366.92 71.08 L367.17 70.59 L367.42 70.14 L367.67 69.73 L367.92 69.37 L368.17 69.06 L368.42 68.81 L368.67 68.63 L368.73 68.60 L368.92 68.49 L369.17 68.37 L369.42 68.26 L369.67 68.16 L369.92 68.08 L370.17 68.03 L370.42 68.00 L370.52 68.00 L370.67 68.01 L370.92 68.06 L371.17 68.15 L371.42 68.26 L371.67 68.39 L371.92 68.53 L372.17 68.67 L372.23 68.70 L372.42 68.81 L372.67 68.98 L372.92 69.16 L373.17 69.36 L373.42 69.56 L373.67 69.78 L373.92 70.00 L374.17 70.23 L374.42 70.47 L374.67 70.73 L374.92 71.00 L375.17 71.28 L375.42 71.56 L375.67 71.84 L375.92 72.13 L376.17 72.41 L376.42 72.68 L376.67 72.95 L376.73 73.00 L376.92 73.21 L377.17 73.46 L377.42 73.71 L377.67 73.96 L377.92 74.21 L378.17 74.46 L378.42 74.70 L378.67 74.95 L378.92 75.20 L379.17 75.45 L379.42 75.70 L379.67 75.95 L379.73 76.00 L379.92 76.21 L380.17 76.47 L380.42 76.74 L380.67 77.01 L380.92 77.28 L381.17 77.55 L381.42 77.82 L381.67 78.09 L381.92 78.34 L382.17 78.59 L382.42 78.82 L382.62 79.00 L382.67 79.04 L382.92 79.26 L383.17 79.46 L383.42 79.66 L383.67 79.86 L383.92 80.05 L384.17 80.24 L384.42 80.42 L384.67 80.60 L384.92 80.78 L385.17 80.95 L385.42 81.13 L385.67 81.30 L385.92 81.47 L386.17 81.63 L386.42 81.80 L386.67 81.97 L386.73 82.00 L386.92 82.13 L387.17 82.30 L387.42 82.47 L387.67 82.63 L387.92 82.80 L388.17 82.96 L388.42 83.12 L388.67 83.28 L388.92 83.44 L389.17 83.59 L389.42 83.75 L389.67 83.90 L389.92 84.04 L390.17 84.19 L390.42 84.33 L390.67 84.47 L390.92 84.60 L391.17 84.73 L391.32 84.80 L391.42 84.85 L391.67 84.97 L391.92 85.09 L392.17 85.20 L392.42 85.32 L392.67 85.43 L392.92 85.54 L393.17 85.65 L393.42 85.76 L393.67 85.86 L393.92 85.96 L394.17 86.06 L394.42 86.16 L394.67 86.26 L394.92 86.36 L395.17 86.45 L395.42 86.54 L395.67 86.63 L395.92 86.72 L396.17 86.81 L396.42 86.90 L396.67 86.98 L396.73 87.00 L396.92 87.07 L397.17 87.15 L397.42 87.23 L397.67 87.30 L397.92 87.38 L398.17 87.45 L398.42 87.52 L398.67 87.59 L398.92 87.66 L399.17 87.73 L399.42 87.80 L399.67 87.87 L399.92 87.94 L400.12 88.00 L400.17 88.01 L400.42 88.09 L400.67 88.16 L400.92 88.23 L401.17 88.30 L401.42 88.37 L401.67 88.44 L401.92 88.51 L402.17 88.58 L402.42 88.65 L402.67 88.72 L402.92 88.79 L403.17 88.86 L403.42 88.92 L403.67 88.99 L403.73 89.00 L403.92 89.05 L404.17 89.12 L404.42 89.18 L404.67 89.24 L404.92 89.31 L405.17 89.37 L405.42 89.43 L405.67 89.50 L405.92 89.56 L406.17 89.62 L406.42 89.68 L406.67 89.74 L406.92 89.80 L407.17 89.86 L407.42 89.91 L407.67 89.97 L407.92 90.02 L408.17 90.07 L408.42 90.12 L408.67 90.17 L408.82 90.20 L408.92 90.22 L409.17 90.26 L409.42 90.31 L409.67 90.35 L409.92 90.40 L410.17 90.44 L410.42 90.48 L410.67 90.52 L410.92 90.56 L411.17 90.60 L411.42 90.63 L411.67 90.67 L411.92 90.70 L412.17 90.74 L412.42 90.77 L412.67 90.79 L412.73 90.80 L412.92 90.82 L413.17 90.85 L413.42 90.87 L413.67 90.90 L413.92 90.92 L414.17 90.94 L414.42 90.96 L414.67 90.98 L414.92 91.00 L415.17 91.02 L415.42 91.04 L415.67 91.06 L415.92 91.08 L416.17 91.10 L416.42 91.12 L416.67 91.14 L416.92 91.15 L417.17 91.17 L417.42 91.19 L417.52 91.20 L417.67 91.21 L417.92 91.23 L418.17 91.25 L418.42 91.27 L418.67 91.29 L418.92 91.31 L419.17 91.33 L419.42 91.35 L419.67 91.37 L419.92 91.38 L420.17 91.40 L420.42 91.42 L420.67 91.44 L420.92 91.45 L421.17 91.47 L421.42 91.48 L421.67 91.50 L421.73 91.50 L421.92 91.51 L422.17 91.52 L422.42 91.54 L422.67 91.55 L422.92 91.56 L423.17 91.58 L423.42 91.59 L423.67 91.60 L423.92 91.61 L424.17 91.62 L424.42 91.63 L424.67 91.64 L424.92 91.65 L425.17 91.66 L425.42 91.67 L425.67 91.68 L425.92 91.69 L426.17 91.70 L426.23 91.70" stroke="#0000ff"/>
<path d="M251.90 138.80 L252.15 138.31 L252.40 137.78 L252.65 137.21 L252.90 136.60 L253.15 135.95 L253.40 135.28 L253.50 135.00 L253.65 134.56 L253.90 133.74 L254.15 132.85 L254.40 131.91 L254.65 130.95 L254.90 130.02 L255.15 129.12 L255.40 128.30 L255.50 128.00 L255.65 127.56 L255.90 126.82 L256.15 126.10 L256.40 125.40 L256.65 124.74 L256.90 124.13 L257.15 123.60 L257.40 123.15 L257.50 123.00 L257.65 122.78 L257.90 122.43 L258.15 122.08 L258.40 121.76 L258.65 121.48 L258.90 121.25 L259.15 121.09 L259.40 121.01 L259.50 121.00 L259.65 121.01 L259.90 121.08 L260.15 121.20 L260.40 121.37 L260.65 121.57 L260.90 121.82 L261.15 122.09 L261.40 122.38 L261.50 122.50 L261.65 122.71 L261.90 123.18 L262.15 123.79 L262.40 124.53 L262.65 125.38 L262.90 126.34 L263.15 127.39 L263.40 128.52 L263.50 129.00 L263.65 129.83 L263.90 131.59 L264.15 133.67 L264.30 135.00 L264.40 135.94 L264.65 138.59 L264.90 141.49 L265.15 144.43 L265.20 145.00 L265.40 147.25 L265.65 150.05 L265.90 152.87 L266.15 155.76 L266.40 158.76 L266.50 160.00 L266.65 161.88 L266.90 165.05 L267.15 168.37 L267.40 171.92 L267.60 175.00 L267.65 175.88 L267.90 181.76 L268.15 187.05 L268.30 188.20 L268.40 188.00 L268.65 186.13 L268.90 183.21 L269.00 182.00 L269.15 179.80 L269.40 175.40 L269.45 174.60 L269.65 171.66 L269.90 168.21 L270.15 164.85 L270.40 161.42 L270.50 160.00 L270.65 157.80 L270.90 154.04 L271.15 150.24 L271.40 146.47 L271.50 145.00 L271.65 142.76 L271.90 139.02 L272.15 135.61 L272.20 135.00 L272.40 132.73 L272.65 130.14 L272.90 127.84 L273.00 127.00 L273.15 125.80 L273.40 123.91 L273.65 122.13 L273.90 120.44 L274.15 118.86 L274.40 117.35 L274.65 115.91 L274.90 114.54 L275.00 114.00 L275.15 113.20 L275.40 111.85 L275.65 110.53 L275.90 109.25 L276.15 108.05 L276.40 106.97 L276.65 106.02 L276.90 105.25 L277.00 105.00 L277.15 104.65 L277.40 104.06 L277.65 103.51 L277.90 103.00 L278.15 102.55 L278.40 102.19 L278.65 101.94 L278.90 101.81 L279.00 101.80 L279.15 101.81 L279.40 101.89 L279.65 102.04 L279.90 102.23 L280.15 102.48 L280.40 102.75 L280.65 103.05 L280.90 103.37 L281.00 103.50 L281.15 103.72 L281.40 104.21 L281.65 104.83 L281.90 105.55 L282.15 106.34 L282.40 107.20 L282.65 108.08 L282.90 108.97 L283.15 109.85 L283.40 110.68 L283.50 111.00 L283.65 111.49 L283.90 112.40 L284.15 113.40 L284.40 114.46 L284.65 115.55 L284.90 116.63 L285.15 117.69 L285.40 118.69 L285.65 119.60 L285.90 120.39 L286.15 121.03 L286.40 121.50 L286.65 121.76 L286.80 121.80 L286.90 121.77 L287.15 121.41 L287.40 120.72 L287.65 119.77 L287.90 118.62 L288.15 117.35 L288.40 116.02 L288.65 114.70 L288.90 113.46 L289.00 113.00 L289.15 112.33 L289.40 111.20 L289.65 110.05 L289.90 108.86 L290.15 107.63 L290.40 106.35 L290.65 105.00 L290.90 103.59 L291.00 103.00 L291.15 102.07 L291.40 100.38 L291.65 98.57 L291.90 96.73 L292.00 96.00 L292.15 94.85 L292.40 92.83 L292.65 90.93 L292.80 90.00 L292.90 89.46 L293.15 88.17 L293.40 86.99 L293.65 85.91 L293.90 84.93 L294.15 84.05 L294.40 83.28 L294.50 83.00 L294.65 82.60 L294.90 81.96 L295.15 81.36 L295.40 80.80 L295.65 80.29 L295.90 79.84 L296.15 79.44 L296.40 79.11 L296.50 79.00 L296.65 78.84 L296.90 78.57 L297.15 78.31 L297.40 78.07 L297.65 77.85 L297.90 77.65 L298.15 77.48 L298.40 77.34 L298.65 77.25 L298.90 77.20 L299.00 77.20 L299.15 77.21 L299.40 77.26 L299.65 77.36 L299.90 77.50 L300.15 77.68 L300.40 77.88 L300.65 78.11 L300.90 78.36 L301.15 78.62 L301.40 78.89 L301.50 79.00 L301.65 79.18 L301.90 79.55 L302.15 80.00 L302.40 80.51 L302.65 81.09 L302.90 81.72 L303.15 82.39 L303.40 83.10 L303.65 83.83 L303.90 84.58 L304.15 85.35 L304.20 85.50 L304.40 86.14 L304.65 87.02 L304.90 87.96 L305.15 88.97 L305.40 90.03 L305.65 91.13 L305.90 92.25 L306.15 93.39 L306.40 94.54 L306.50 95.00 L306.65 95.71 L306.90 96.98 L307.15 98.28 L307.40 99.53 L307.50 100.00 L307.65 100.65 L307.90 101.66 L308.15 102.75 L308.20 103.00 L308.40 104.12 L308.65 105.76 L308.90 107.57 L309.15 109.46 L309.40 111.31 L309.65 113.03 L309.90 114.50 L310.00 115.00 L310.15 115.70 L310.40 116.85 L310.65 117.93 L310.90 118.90 L311.15 119.72 L311.40 120.32 L311.50 120.50 L311.65 120.73 L311.90 121.09 L312.15 121.40 L312.40 121.64 L312.65 121.78 L312.80 121.80 L312.90 121.79 L313.15 121.64 L313.40 121.37 L313.65 121.00 L313.90 120.57 L314.15 120.12 L314.40 119.67 L314.50 119.50 L314.65 119.24 L314.90 118.74 L315.15 118.18 L315.40 117.59 L315.65 116.97 L315.90 116.35 L316.15 115.74 L316.40 115.16 L316.65 114.63 L316.90 114.16 L317.00 114.00 L317.15 113.77 L317.40 113.38 L317.65 112.99 L317.90 112.62 L318.15 112.27 L318.40 111.95 L318.65 111.66 L318.90 111.41 L319.15 111.20 L319.40 111.05 L319.50 111.00 L319.65 110.94 L319.90 110.84 L320.15 110.76 L320.40 110.68 L320.65 110.61 L320.90 110.56 L321.15 110.52 L321.40 110.50 L321.50 110.50 L321.65 110.52 L321.90 110.61 L322.15 110.77 L322.40 111.01 L322.65 111.30 L322.90 111.63 L323.15 112.01 L323.40 112.42 L323.65 112.85 L323.90 113.29 L324.15 113.73 L324.30 114.00 L324.40 114.19 L324.65 114.78 L324.90 115.50 L325.15 116.32 L325.40 117.19 L325.65 118.10 L325.90 119.00 L326.15 119.86 L326.40 120.64 L326.65 121.31 L326.90 121.84 L327.00 122.00 L327.15 122.22 L327.40 122.58 L327.65 122.93 L327.90 123.25 L328.15 123.53 L328.40 123.75 L328.65 123.91 L328.90 123.99 L329.00 124.00 L329.15 123.99 L329.40 123.91 L329.65 123.78 L329.90 123.59 L330.15 123.37 L330.40 123.13 L330.65 122.86 L330.90 122.60 L331.15 122.34 L331.40 122.09 L331.50 122.00 L331.65 121.86 L331.90 121.60 L332.15 121.30 L332.40 120.99 L332.65 120.66 L332.90 120.32 L333.15 119.99 L333.40 119.67 L333.65 119.38 L333.90 119.11 L334.15 118.88 L334.40 118.70 L334.65 118.57 L334.90 118.51 L335.00 118.50 L335.15 118.50 L335.40 118.51 L335.65 118.52 L335.90 118.54 L336.15 118.57 L336.40 118.60 L336.65 118.64 L336.90 118.68 L337.15 118.73 L337.40 118.79 L337.65 118.85 L337.90 118.92 L338.15 118.99 L338.40 119.07 L338.65 119.15 L338.80 119.20 L338.90 119.25 L339.15 119.47 L339.40 119.81 L339.65 120.25 L339.90 120.76 L340.15 121.32 L340.40 121.90 L340.65 122.47 L340.90 123.00 L341.15 123.48 L341.40 123.87 L341.50 124.00 L341.65 124.18 L341.90 124.48 L342.15 124.78 L342.40 125.08 L342.65 125.37 L342.90 125.65 L343.15 125.91 L343.40 126.16 L343.65 126.38 L343.90 126.58 L344.15 126.74 L344.40 126.87 L344.65 126.95 L344.90 127.00 L345.00 127.00 L345.15 126.99 L345.40 126.92 L345.65 126.81 L345.90 126.65 L346.15 126.45 L346.40 126.22 L346.65 125.97 L346.90 125.70 L347.15 125.42 L347.40 125.14 L347.65 124.87 L347.90 124.60 L348.00 124.50 L348.15 124.35 L348.40 124.09 L348.65 123.81 L348.90 123.53 L349.15 123.23 L349.40 122.93 L349.65 122.61 L349.90 122.29 L350.15 121.96 L350.40 121.63 L350.65 121.29 L350.90 120.95 L351.15 120.60 L351.40 120.25 L351.65 119.90 L351.90 119.55 L352.15 119.20 L352.40 118.84 L352.65 118.49 L352.90 118.14 L353.00 118.00 L353.15 117.79 L353.40 117.46 L353.65 117.15 L353.90 116.83 L354.15 116.52 L354.40 116.21 L354.65 115.89 L354.90 115.56 L355.15 115.20 L355.40 114.83 L355.65 114.43 L355.90 114.00 L356.15 113.53 L356.40 113.02 L356.50 112.80 L356.65 112.43 L356.90 111.64 L357.15 110.69 L357.40 109.62 L357.65 108.48 L357.90 107.31 L358.15 106.16 L358.40 105.07 L358.65 104.10 L358.90 103.27 L359.00 103.00 L359.15 102.64 L359.40 102.13 L359.65 101.70 L359.90 101.27 L360.15 100.81 L360.40 100.26 L360.50 100.00 L360.65 99.55 L360.90 98.64 L361.15 97.56 L361.40 96.35 L361.65 95.05 L361.90 93.69 L362.15 92.31 L362.40 90.96 L362.65 89.65 L362.90 88.45 L363.00 88.00 L363.15 87.34 L363.40 86.25 L363.65 85.16 L363.90 84.09 L364.15 83.04 L364.40 82.01 L364.65 81.02 L364.90 80.07 L365.15 79.17 L365.40 78.32 L365.50 78.00 L365.65 77.53 L365.90 76.73 L366.15 75.94 L366.40 75.17 L366.65 74.43 L366.90 73.74 L367.15 73.10 L367.40 72.52 L367.65 72.03 L367.90 71.63 L368.00 71.50 L368.15 71.32 L368.40 71.02 L368.65 70.73 L368.90 70.46 L369.15 70.21 L369.40 69.99 L369.65 69.80 L369.90 69.66 L370.15 69.56 L370.40 69.50 L370.50 69.50 L370.65 69.50 L370.90 69.51 L371.15 69.52 L371.40 69.54 L371.65 69.57 L371.90 69.60 L372.15 69.64 L372.40 69.68 L372.65 69.72 L372.90 69.78 L373.15 69.83 L373.40 69.89 L373.65 69.96 L373.80 70.00 L373.90 70.04 L374.15 70.19 L374.40 70.42 L374.65 70.72 L374.90 71.08 L375.15 71.49 L375.40 71.93 L375.65 72.41 L375.90 72.90 L376.15 73.40 L376.40 73.89 L376.65 74.37 L376.90 74.83 L377.00 75.00 L377.15 75.26 L377.40 75.73 L377.65 76.22 L377.90 76.73 L378.15 77.26 L378.40 77.80 L378.65 78.33 L378.90 78.85 L379.15 79.36 L379.40 79.85 L379.65 80.30 L379.90 80.71 L380.15 81.08 L380.40 81.39 L380.50 81.50 L380.65 81.65 L380.90 81.91 L381.15 82.15 L381.40 82.39 L381.65 82.61 L381.90 82.83 L382.15 83.03 L382.40 83.22 L382.65 83.39 L382.90 83.55 L383.15 83.69 L383.40 83.80 L383.65 83.90 L383.90 83.98 L384.00 84.00 L384.15 84.03 L384.40 84.08 L384.65 84.12 L384.90 84.16 L385.15 84.19 L385.40 84.23 L385.65 84.25 L385.90 84.28 L386.15 84.31 L386.40 84.33 L386.65 84.35 L386.90 84.38 L387.15 84.40 L387.40 84.43 L387.65 84.46 L387.90 84.49 L388.00 84.50 L388.15 84.52 L388.40 84.55 L388.65 84.58 L388.90 84.60 L389.15 84.63 L389.40 84.66 L389.65 84.69 L389.90 84.72 L390.15 84.75 L390.40 84.78 L390.65 84.82 L390.90 84.87 L391.15 84.92 L391.40 84.98 L391.50 85.00 L391.65 85.05 L391.90 85.18 L392.15 85.37 L392.40 85.61 L392.65 85.89 L392.90 86.19 L393.15 86.53 L393.40 86.88 L393.65 87.24 L393.90 87.60 L394.15 87.95 L394.40 88.29 L394.65 88.61 L394.90 88.90 L395.00 89.00 L395.15 89.15 L395.40 89.42 L395.65 89.69 L395.90 89.97 L396.15 90.24 L396.40 90.51 L396.65 90.78 L396.90 91.03 L397.15 91.28 L397.40 91.50 L397.65 91.70 L397.90 91.89 L398.15 92.04 L398.40 92.16 L398.50 92.20 L398.65 92.26 L398.90 92.35 L399.15 92.43 L399.40 92.51 L399.65 92.59 L399.90 92.65 L400.15 92.71 L400.40 92.75 L400.65 92.78 L400.90 92.80 L401.00 92.80 L401.15 92.79 L401.40 92.75 L401.65 92.68 L401.90 92.58 L402.15 92.47 L402.40 92.33 L402.65 92.19 L402.90 92.05 L403.15 91.90 L403.40 91.77 L403.65 91.64 L403.90 91.54 L404.00 91.50 L404.15 91.45 L404.40 91.36 L404.65 91.27 L404.90 91.18 L405.15 91.09 L405.40 90.99 L405.65 90.90 L405.90 90.81 L406.15 90.73 L406.40 90.65 L406.65 90.57 L406.90 90.50 L407.15 90.43 L407.40 90.37 L407.65 90.32 L407.90 90.27 L408.15 90.24 L408.40 90.22 L408.65 90.20 L408.80 90.20 L408.90 90.20 L409.15 90.25 L409.40 90.35 L409.65 90.49 L409.90 90.66 L410.15 90.86 L410.40 91.08 L410.65 91.31 L410.90 91.55 L411.15 91.78 L411.40 92.02 L411.65 92.23 L411.90 92.43 L412.00 92.50 L412.15 92.61 L412.40 92.79 L412.65 92.98 L412.90 93.18 L413.15 93.37 L413.40 93.57 L413.65 93.77 L413.90 93.95 L414.15 94.13 L414.40 94.30 L414.65 94.45 L414.90 94.58 L415.15 94.69 L415.40 94.77 L415.50 94.80 L415.65 94.84 L415.90 94.90 L416.15 94.96 L416.40 95.01 L416.65 95.06 L416.90 95.10 L417.15 95.14 L417.40 95.17 L417.65 95.19 L417.90 95.20 L418.00 95.20 L418.15 95.20 L418.40 95.17 L418.65 95.12 L418.90 95.06 L419.15 94.98 L419.40 94.88 L419.65 94.78 L419.90 94.68 L420.15 94.56 L420.40 94.45 L420.65 94.34 L420.90 94.24 L421.00 94.20 L421.15 94.14 L421.40 94.04 L421.65 93.94 L421.90 93.84 L422.15 93.73 L422.40 93.62 L422.65 93.51 L422.90 93.40 L423.15 93.28 L423.40 93.17 L423.65 93.05 L423.90 92.93 L424.15 92.80 L424.40 92.68 L424.65 92.55 L424.90 92.42 L425.15 92.28 L425.40 92.15 L425.65 92.01 L425.90 91.87 L426.15 91.73 L426.20 91.70" stroke="#ff0000"/>
<g fill="#ff0000" stroke="none"><circle cx="251.93" cy="138.80" r="3.35"/><circle cx="269.36" cy="174.59" r="3.35"/><circle cx="286.78" cy="121.46" r="3.35"/><circle cx="304.22" cy="84.66" r="3.35"/><circle cx="321.64" cy="110.75" r="3.35"/><circle cx="339.08" cy="119.32" r="3.35"/><circle cx="356.50" cy="112.85" r="3.35"/><circle cx="373.94" cy="70.01" r="3.35"/><circle cx="391.37" cy="84.82" r="3.35"/><circle cx="408.79" cy="90.19" r="3.35"/><circle cx="426.23" cy="91.70" r="3.35"/></g>
<path d="M251.93 206.40 L254.13 369.80 L256.34 317.00 L258.54 320.00 L260.75 365.50 L262.96 315.00 L265.16 305.30 L267.37 328.00 L269.58 309.80 L271.78 324.00 L273.99 345.00 L276.19 325.50 L278.40 316.00 L280.61 316.20 L282.81 303.30 L285.02 309.30 L287.23 326.50 L289.43 334.20 L291.64 338.20 L293.85 334.60 L296.05 322.00 L298.26 314.20 L300.46 316.50 L302.67 321.00 L304.88 328.30 L307.08 335.60 L309.29 326.40 L311.50 318.00 L313.70 311.90 L315.91 309.60 L318.11 312.90 L320.32 321.20 L322.53 330.90 L324.73 334.60 L326.94 329.90 L329.15 322.30 L331.35 316.60 L333.56 317.20 L335.77 323.90 L337.97 330.00 L340.18 333.50 L342.38 329.00 L344.59 320.50 L346.80 314.90 L349.00 313.30 L351.21 315.60 L353.42 322.50 L355.62 329.00 L357.83 331.40 L360.04 326.50 L362.24 319.90 L364.45 317.40 L366.65 317.70 L368.86 322.00 L371.07 328.00 L373.27 332.20 L375.48 329.50 L377.69 322.90 L379.89 317.90 L382.10 316.30 L384.30 318.90 L386.51 324.90 L388.72 328.90 L390.92 329.50 L393.13 326.20 L395.34 320.90 L397.54 318.50 L399.75 318.60 L401.96 323.20 L404.16 328.20 L406.37 330.50 L408.57 329.20 L410.78 324.20 L412.99 319.20 L415.19 318.40 L417.40 319.20 L419.61 323.20 L421.81 327.20 L424.02 328.20 L426.23 325.30" stroke="#0000ff"/>
<path d="M251.93 209.90 L254.13 365.20 L256.34 316.20 L258.54 322.00 L260.75 363.90 L262.96 315.90 L265.16 309.20 L267.37 326.90 L269.58 304.60 L271.78 313.50 L273.99 336.90 L276.19 323.00 L278.40 319.80 L280.61 324.60 L282.81 310.90 L285.02 312.90 L287.23 328.00 L289.43 331.30 L291.64 335.20 L293.85 338.50" stroke="#ff0000"/>
<g fill="#ff0000" stroke="none"><circle cx="251.93" cy="209.90" r="3.35"/><circle cx="254.13" cy="365.20" r="3.35"/><circle cx="256.34" cy="316.20" r="3.35"/><circle cx="258.54" cy="322.00" r="3.35"/><circle cx="260.75" cy="363.90" r="3.35"/><circle cx="262.96" cy="315.90" r="3.35"/><circle cx="265.16" cy="309.20" r="3.35"/><circle cx="267.37" cy="326.90" r="3.35"/><circle cx="269.58" cy="304.60" r="3.35"/><circle cx="271.78" cy="313.50" r="3.35"/><circle cx="273.99" cy="336.90" r="3.35"/><circle cx="276.19" cy="323.00" r="3.35"/><circle cx="278.40" cy="319.80" r="3.35"/><circle cx="280.61" cy="324.60" r="3.35"/><circle cx="282.81" cy="310.90" r="3.35"/><circle cx="285.02" cy="312.90" r="3.35"/><circle cx="287.23" cy="328.00" r="3.35"/><circle cx="289.43" cy="331.30" r="3.35"/><circle cx="291.64" cy="335.20" r="3.35"/><circle cx="293.85" cy="338.50" r="3.35"/></g>
<path d="M443.65 138.80 L443.90 138.83 L444.15 138.86 L444.40 138.90 L444.65 138.94 L444.90 138.98 L445.15 139.03 L445.40 139.08 L445.65 139.13 L445.90 139.19 L445.95 139.20 L446.15 139.25 L446.40 139.31 L446.65 139.37 L446.90 139.44 L447.15 139.52 L447.40 139.60 L447.65 139.68 L447.90 139.77 L448.15 139.87 L448.40 139.98 L448.45 140.00 L448.65 140.10 L448.90 140.23 L449.15 140.38 L449.40 140.55 L449.65 140.73 L449.90 140.93 L450.15 141.13 L450.40 141.34 L450.65 141.56 L450.90 141.79 L451.15 142.02 L451.40 142.25 L451.45 142.30 L451.65 142.50 L451.90 142.76 L452.15 143.05 L452.35 143.30 L452.40 143.36 L452.65 143.69 L452.90 144.02 L453.15 144.37 L453.40 144.73 L453.65 145.12 L453.90 145.52 L454.15 145.95 L454.40 146.41 L454.45 146.50 L454.65 146.89 L454.90 147.42 L455.15 147.99 L455.40 148.59 L455.65 149.23 L455.90 149.89 L456.15 150.58 L456.40 151.29 L456.65 152.01 L456.75 152.30 L456.90 152.74 L457.15 153.49 L457.40 154.25 L457.65 155.04 L457.90 155.87 L458.15 156.75 L458.40 157.69 L458.65 158.69 L458.90 159.77 L458.95 160.00 L459.15 160.98 L459.40 162.36 L459.65 163.90 L459.90 165.55 L460.15 167.29 L460.25 168.00 L460.40 169.32 L460.65 172.01 L460.90 174.15 L461.05 174.60 L461.15 174.44 L461.40 172.91 L461.65 170.33 L461.85 168.00 L461.90 167.38 L462.15 163.30 L462.40 158.04 L462.65 152.29 L462.75 150.00 L462.90 146.40 L463.15 139.82 L463.40 133.24 L463.45 132.00 L463.65 127.19 L463.90 121.38 L464.05 118.00 L464.15 115.77 L464.40 110.28 L464.65 105.00 L464.85 101.00 L464.90 99.97 L465.15 94.40 L465.35 92.00 L465.40 91.89 L465.65 91.46 L465.90 91.24 L466.05 91.20 L466.15 91.26 L466.40 91.83 L466.65 92.67 L466.75 93.00 L466.90 93.50 L467.15 94.45 L467.40 95.51 L467.65 96.65 L467.90 97.81 L468.15 98.98 L468.40 100.09 L468.45 100.30 L468.65 101.18 L468.90 102.34 L469.15 103.49 L469.40 104.54 L469.65 105.42 L469.75 105.70 L469.90 106.06 L470.15 106.57 L470.40 107.01 L470.65 107.43 L470.90 107.90 L470.95 108.00 L471.15 108.44 L471.40 109.02 L471.65 109.63 L471.90 110.27 L472.15 110.91 L472.40 111.55 L472.65 112.18 L472.90 112.79 L473.15 113.37 L473.40 113.90 L473.45 114.00 L473.65 114.39 L473.90 114.87 L474.15 115.33 L474.40 115.78 L474.65 116.22 L474.90 116.64 L475.15 117.05 L475.40 117.45 L475.65 117.84 L475.90 118.22 L476.15 118.58 L476.40 118.93 L476.45 119.00 L476.65 119.27 L476.90 119.60 L477.15 119.92 L477.40 120.23 L477.65 120.53 L477.90 120.82 L478.15 121.09 L478.40 121.35 L478.55 121.50 L478.65 121.60 L478.90 121.85 L479.15 122.08 L479.40 122.31 L479.65 122.50 L479.90 122.67 L479.95 122.70 L480.15 122.81 L480.40 122.95 L480.65 123.09 L480.90 123.22 L481.15 123.33 L481.40 123.41 L481.65 123.47 L481.90 123.50 L481.95 123.50 L482.15 123.48 L482.40 123.41 L482.65 123.29 L482.90 123.13 L483.15 122.94 L483.40 122.74 L483.45 122.70 L483.65 122.50 L483.90 122.14 L484.15 121.68 L484.40 121.12 L484.45 121.00 L484.65 120.42 L484.90 119.48 L485.15 118.27 L485.40 116.78 L485.65 115.00 L485.90 112.21 L486.15 108.30 L486.35 105.00 L486.40 104.16 L486.65 99.45 L486.85 96.00 L486.90 95.33 L487.15 92.58 L487.25 91.00 L487.40 85.78 L487.55 80.00 L487.65 77.58 L487.90 72.79 L488.05 70.00 L488.15 68.00 L488.40 63.00 L488.55 60.00 L488.65 58.00 L488.90 53.00 L489.05 50.00 L489.15 48.00 L489.40 43.00 L489.55 40.00 L489.65 38.03 L489.90 33.15 L490.05 30.00 L490.15 27.25 L490.40 20.60 L490.45 20.30 L490.65 22.74 L490.90 28.91 L490.95 30.00 L491.15 34.44 L491.40 40.07 L491.55 42.80 L491.65 44.20 L491.90 47.02 L492.15 50.00 L492.40 54.33 L492.45 55.00 L492.65 56.98 L492.90 58.89 L493.05 60.00 L493.15 60.76 L493.40 62.55 L493.65 64.29 L493.75 65.00 L493.90 66.06 L494.15 67.80 L494.40 69.62 L494.45 70.00 L494.65 71.58 L494.90 73.67 L495.05 75.00 L495.15 75.93 L495.40 78.43 L495.55 80.00 L495.65 81.15 L495.90 84.24 L496.05 85.60 L496.15 86.23 L496.40 87.55 L496.65 88.60 L496.90 89.49 L497.05 90.00 L497.15 90.33 L497.40 91.11 L497.65 91.83 L497.90 92.50 L498.15 93.13 L498.40 93.73 L498.65 94.31 L498.90 94.88 L498.95 95.00 L499.15 95.45 L499.40 96.00 L499.65 96.53 L499.90 97.03 L500.15 97.51 L500.25 97.70 L500.40 97.98 L500.65 98.43 L500.90 98.88 L501.15 99.31 L501.40 99.71 L501.65 100.09 L501.90 100.44 L501.95 100.50 L502.15 100.75 L502.40 101.03 L502.65 101.30 L502.90 101.56 L503.15 101.80 L503.40 102.03 L503.65 102.26 L503.90 102.49 L504.15 102.72 L504.40 102.96 L504.65 103.20 L504.90 103.45 L505.15 103.71 L505.40 103.96 L505.65 104.22 L505.90 104.48 L506.15 104.73 L506.40 104.99 L506.65 105.24 L506.90 105.48 L507.15 105.72 L507.40 105.95 L507.45 106.00 L507.65 106.18 L507.90 106.40 L508.15 106.62 L508.40 106.83 L508.65 107.04 L508.90 107.25 L509.15 107.46 L509.40 107.66 L509.65 107.86 L509.90 108.06 L510.15 108.26 L510.40 108.46 L510.45 108.50 L510.65 108.66 L510.90 108.87 L511.15 109.07 L511.40 109.28 L511.65 109.48 L511.90 109.69 L512.15 109.89 L512.40 110.08 L512.65 110.27 L512.90 110.44 L513.15 110.61 L513.40 110.77 L513.45 110.80 L513.65 110.92 L513.90 111.06 L514.15 111.19 L514.40 111.32 L514.65 111.44 L514.90 111.56 L515.15 111.67 L515.40 111.79 L515.65 111.90 L515.90 112.01 L516.15 112.12 L516.40 112.22 L516.65 112.33 L516.90 112.45 L517.15 112.56 L517.40 112.68 L517.45 112.70 L517.65 112.80 L517.90 112.91 L518.15 113.03 L518.40 113.15 L518.65 113.27 L518.90 113.39 L519.15 113.51 L519.40 113.63 L519.65 113.75 L519.90 113.87 L520.15 113.99 L520.40 114.11 L520.65 114.23 L520.90 114.35 L521.15 114.47 L521.40 114.59 L521.65 114.71 L521.90 114.83 L522.05 114.90 L522.15 114.95 L522.40 115.07 L522.65 115.18 L522.90 115.30 L523.15 115.42 L523.40 115.54 L523.65 115.65 L523.90 115.77 L524.15 115.89 L524.40 116.01 L524.65 116.12 L524.90 116.24 L525.15 116.36 L525.40 116.48 L525.65 116.60 L525.90 116.73 L526.15 116.85 L526.40 116.97 L526.45 117.00 L526.65 117.10 L526.90 117.23 L527.15 117.36 L527.40 117.50 L527.65 117.63 L527.90 117.77 L528.15 117.91 L528.40 118.05 L528.65 118.18 L528.90 118.32 L529.15 118.46 L529.40 118.60 L529.65 118.73 L529.90 118.86 L530.15 119.00 L530.40 119.12 L530.65 119.25 L530.75 119.30 L530.90 119.37 L531.15 119.50 L531.40 119.62 L531.65 119.74 L531.90 119.87 L532.15 119.99 L532.40 120.11 L532.65 120.22 L532.90 120.34 L533.15 120.45 L533.40 120.57 L533.65 120.67 L533.90 120.78 L534.15 120.88 L534.40 120.98 L534.45 121.00 L534.65 121.08 L534.90 121.17 L535.15 121.27 L535.40 121.36 L535.65 121.45 L535.90 121.54 L536.15 121.63 L536.40 121.71 L536.65 121.79 L536.90 121.86 L537.15 121.93 L537.40 121.99 L537.45 122.00 L537.65 122.05 L537.90 122.11 L538.15 122.16 L538.40 122.22 L538.65 122.27 L538.90 122.32 L539.15 122.36 L539.40 122.39 L539.65 122.40 L539.75 122.40 L539.90 122.40 L540.15 122.37 L540.40 122.32 L540.65 122.25 L540.90 122.16 L541.15 122.07 L541.40 121.96 L541.65 121.84 L541.90 121.72 L541.95 121.70 L542.15 121.59 L542.40 121.42 L542.65 121.21 L542.90 120.97 L543.15 120.71 L543.40 120.44 L543.65 120.15 L543.90 119.86 L543.95 119.80 L544.15 119.56 L544.40 119.22 L544.65 118.87 L544.90 118.49 L545.15 118.10 L545.40 117.69 L545.65 117.29 L545.90 116.88 L545.95 116.80 L546.15 116.49 L546.40 116.11 L546.65 115.74 L546.90 115.36 L547.15 114.97 L547.40 114.55 L547.65 114.10 L547.90 113.60 L548.15 113.04 L548.25 112.80 L548.40 112.39 L548.65 111.56 L548.90 110.58 L549.15 109.50 L549.40 108.38 L549.65 107.27 L549.90 106.20 L549.95 106.00 L550.15 105.20 L550.40 104.19 L550.65 103.19 L550.90 102.18 L551.15 101.18 L551.40 100.20 L551.45 100.00 L551.65 99.22 L551.90 98.27 L552.15 97.32 L552.40 96.36 L552.65 95.39 L552.75 95.00 L552.90 94.40 L553.15 93.40 L553.40 92.38 L553.65 91.35 L553.90 90.31 L554.15 89.27 L554.40 88.21 L554.45 88.00 L554.65 87.14 L554.90 86.04 L555.15 84.92 L555.40 83.78 L555.65 82.64 L555.90 81.51 L556.15 80.39 L556.40 79.29 L556.65 78.22 L556.90 77.20 L556.95 77.00 L557.15 76.19 L557.40 75.14 L557.65 74.10 L557.90 73.14 L558.15 72.29 L558.40 71.61 L558.45 71.50 L558.65 71.08 L558.90 70.59 L559.15 70.14 L559.40 69.73 L559.65 69.37 L559.90 69.06 L560.15 68.81 L560.40 68.63 L560.45 68.60 L560.65 68.49 L560.90 68.37 L561.15 68.26 L561.40 68.16 L561.65 68.08 L561.90 68.03 L562.15 68.00 L562.25 68.00 L562.40 68.01 L562.65 68.06 L562.90 68.15 L563.15 68.26 L563.40 68.39 L563.65 68.53 L563.90 68.67 L563.95 68.70 L564.15 68.81 L564.40 68.98 L564.65 69.16 L564.90 69.36 L565.15 69.56 L565.40 69.78 L565.65 70.00 L565.90 70.23 L566.15 70.47 L566.40 70.73 L566.65 71.00 L566.90 71.28 L567.15 71.56 L567.40 71.84 L567.65 72.13 L567.90 72.41 L568.15 72.68 L568.40 72.95 L568.45 73.00 L568.65 73.21 L568.90 73.46 L569.15 73.71 L569.40 73.96 L569.65 74.21 L569.90 74.46 L570.15 74.70 L570.40 74.95 L570.65 75.20 L570.90 75.45 L571.15 75.70 L571.40 75.95 L571.45 76.00 L571.65 76.21 L571.90 76.47 L572.15 76.74 L572.40 77.01 L572.65 77.28 L572.90 77.55 L573.15 77.82 L573.40 78.09 L573.65 78.34 L573.90 78.59 L574.15 78.82 L574.35 79.00 L574.40 79.04 L574.65 79.26 L574.90 79.46 L575.15 79.66 L575.40 79.86 L575.65 80.05 L575.90 80.24 L576.15 80.42 L576.40 80.60 L576.65 80.78 L576.90 80.95 L577.15 81.13 L577.40 81.30 L577.65 81.47 L577.90 81.63 L578.15 81.80 L578.40 81.97 L578.45 82.00 L578.65 82.13 L578.90 82.30 L579.15 82.47 L579.40 82.63 L579.65 82.80 L579.90 82.96 L580.15 83.12 L580.40 83.28 L580.65 83.44 L580.90 83.59 L581.15 83.75 L581.40 83.90 L581.65 84.04 L581.90 84.19 L582.15 84.33 L582.40 84.47 L582.65 84.60 L582.90 84.73 L583.05 84.80 L583.15 84.85 L583.40 84.97 L583.65 85.09 L583.90 85.20 L584.15 85.32 L584.40 85.43 L584.65 85.54 L584.90 85.65 L585.15 85.76 L585.40 85.86 L585.65 85.96 L585.90 86.06 L586.15 86.16 L586.40 86.26 L586.65 86.36 L586.90 86.45 L587.15 86.54 L587.40 86.63 L587.65 86.72 L587.90 86.81 L588.15 86.90 L588.40 86.98 L588.45 87.00 L588.65 87.07 L588.90 87.15 L589.15 87.23 L589.40 87.30 L589.65 87.38 L589.90 87.45 L590.15 87.52 L590.40 87.59 L590.65 87.66 L590.90 87.73 L591.15 87.80 L591.40 87.87 L591.65 87.94 L591.85 88.00 L591.90 88.01 L592.15 88.09 L592.40 88.16 L592.65 88.23 L592.90 88.30 L593.15 88.37 L593.40 88.44 L593.65 88.51 L593.90 88.58 L594.15 88.65 L594.40 88.72 L594.65 88.79 L594.90 88.86 L595.15 88.92 L595.40 88.99 L595.45 89.00 L595.65 89.05 L595.90 89.12 L596.15 89.18 L596.40 89.24 L596.65 89.31 L596.90 89.37 L597.15 89.43 L597.40 89.50 L597.65 89.56 L597.90 89.62 L598.15 89.68 L598.40 89.74 L598.65 89.80 L598.90 89.86 L599.15 89.91 L599.40 89.97 L599.65 90.02 L599.90 90.07 L600.15 90.12 L600.40 90.17 L600.55 90.20 L600.65 90.22 L600.90 90.26 L601.15 90.31 L601.40 90.35 L601.65 90.40 L601.90 90.44 L602.15 90.48 L602.40 90.52 L602.65 90.56 L602.90 90.60 L603.15 90.63 L603.40 90.67 L603.65 90.70 L603.90 90.74 L604.15 90.77 L604.40 90.79 L604.45 90.80 L604.65 90.82 L604.90 90.85 L605.15 90.87 L605.40 90.90 L605.65 90.92 L605.90 90.94 L606.15 90.96 L606.40 90.98 L606.65 91.00 L606.90 91.02 L607.15 91.04 L607.40 91.06 L607.65 91.08 L607.90 91.10 L608.15 91.12 L608.40 91.14 L608.65 91.15 L608.90 91.17 L609.15 91.19 L609.25 91.20 L609.40 91.21 L609.65 91.23 L609.90 91.25 L610.15 91.27 L610.40 91.29 L610.65 91.31 L610.90 91.33 L611.15 91.35 L611.40 91.37 L611.65 91.38 L611.90 91.40 L612.15 91.42 L612.40 91.44 L612.65 91.45 L612.90 91.47 L613.15 91.48 L613.40 91.50 L613.45 91.50 L613.65 91.51 L613.90 91.52 L614.15 91.54 L614.40 91.55 L614.65 91.56 L614.90 91.58 L615.15 91.59 L615.40 91.60 L615.65 91.61 L615.90 91.62 L616.15 91.63 L616.40 91.64 L616.65 91.65 L616.90 91.66 L617.15 91.67 L617.40 91.68 L617.65 91.69 L617.90 91.70 L617.95 91.70" stroke="#0000ff"/>
<path d="M443.60 138.80 L443.85 138.50 L444.10 138.20 L444.35 137.93 L444.60 137.67 L444.85 137.45 L445.10 137.25 L445.35 137.08 L445.50 137.00 L445.60 136.95 L445.85 136.83 L446.10 136.71 L446.35 136.60 L446.60 136.50 L446.85 136.42 L447.10 136.36 L447.35 136.31 L447.60 136.30 L447.85 136.35 L448.10 136.49 L448.35 136.72 L448.60 137.00 L448.85 137.34 L449.10 137.72 L449.35 138.12 L449.60 138.52 L449.85 138.93 L450.10 139.31 L450.30 139.60 L450.35 139.67 L450.60 140.08 L450.85 140.57 L451.10 141.08 L451.35 141.57 L451.60 141.99 L451.85 142.31 L452.10 142.48 L452.20 142.50 L452.35 142.48 L452.60 142.37 L452.85 142.18 L453.10 141.97 L453.35 141.77 L453.60 141.60 L453.85 141.45 L454.10 141.30 L454.35 141.16 L454.60 141.05 L454.85 141.00 L454.90 141.00 L455.10 141.05 L455.35 141.26 L455.60 141.60 L455.85 142.07 L456.10 142.64 L456.35 143.30 L456.60 144.04 L456.85 144.84 L456.90 145.00 L457.10 145.88 L457.35 147.51 L457.60 149.55 L457.85 151.81 L458.10 154.11 L458.20 155.00 L458.35 156.31 L458.60 158.56 L458.85 161.00 L459.10 163.77 L459.20 165.00 L459.35 167.44 L459.60 172.99 L459.85 178.58 L460.10 182.12 L460.20 182.50 L460.35 182.16 L460.60 180.39 L460.85 177.73 L461.10 174.90 L461.35 171.84 L461.60 168.19 L461.80 165.00 L461.85 164.16 L462.10 159.33 L462.35 154.29 L462.50 151.60 L462.60 150.00 L462.85 146.25 L463.10 142.86 L463.20 141.60 L463.35 139.79 L463.60 136.99 L463.80 135.00 L463.85 134.53 L464.10 132.24 L464.35 130.03 L464.60 127.90 L464.85 125.86 L465.10 123.91 L465.35 122.07 L465.60 120.32 L465.85 118.69 L466.10 117.17 L466.20 116.60 L466.35 115.75 L466.60 114.35 L466.85 112.99 L467.10 111.71 L467.35 110.53 L467.60 109.50 L467.85 108.65 L468.10 108.00 L468.35 107.48 L468.60 106.98 L468.85 106.52 L469.10 106.12 L469.35 105.81 L469.60 105.60 L469.85 105.50 L469.90 105.50 L470.10 105.68 L470.35 106.32 L470.60 107.22 L470.80 108.00 L470.85 108.20 L471.10 109.53 L471.35 111.24 L471.60 113.12 L471.85 114.98 L472.10 116.60 L472.35 118.02 L472.60 119.40 L472.85 120.73 L473.10 122.02 L473.35 123.25 L473.60 124.43 L473.85 125.55 L474.10 126.60 L474.35 127.69 L474.60 128.85 L474.85 129.99 L475.10 131.01 L475.35 131.84 L475.60 132.36 L475.80 132.50 L475.85 132.49 L476.10 132.14 L476.35 131.39 L476.60 130.36 L476.85 129.17 L477.10 127.95 L477.35 126.81 L477.40 126.60 L477.60 125.65 L477.85 124.22 L478.10 122.76 L478.35 121.56 L478.60 120.87 L478.70 120.80 L478.85 120.83 L479.10 120.98 L479.35 121.26 L479.60 121.66 L479.85 122.17 L480.10 122.78 L480.35 123.49 L480.60 124.27 L480.70 124.60 L480.85 125.32 L481.10 127.28 L481.35 129.88 L481.60 132.75 L481.80 135.00 L481.85 135.54 L482.10 138.17 L482.35 140.78 L482.60 143.44 L482.85 146.24 L483.10 149.26 L483.35 152.56 L483.60 156.24 L483.85 160.36 L484.10 165.00 L484.35 173.01 L484.40 173.50 L484.60 168.55 L484.70 165.00 L484.85 160.27 L485.10 151.79 L485.35 143.14 L485.60 135.00 L485.85 127.58 L486.10 120.53 L486.30 115.00 L486.35 113.59 L486.60 106.08 L486.85 98.71 L487.10 92.78 L487.20 91.10 L487.35 89.21 L487.60 86.81 L487.80 85.00 L487.85 84.51 L488.10 82.06 L488.35 79.64 L488.60 77.34 L488.85 75.28 L488.90 74.90 L489.10 73.42 L489.35 71.62 L489.60 69.94 L489.85 68.47 L490.10 67.28 L490.20 66.90 L490.35 66.38 L490.60 65.52 L490.85 64.73 L491.10 64.06 L491.35 63.58 L491.60 63.32 L491.70 63.30 L491.85 63.36 L492.10 63.69 L492.35 64.26 L492.60 65.00 L492.85 65.88 L493.10 66.81 L493.35 67.76 L493.50 68.30 L493.60 68.66 L493.85 69.59 L494.10 70.60 L494.35 71.75 L494.60 73.06 L494.85 74.57 L494.90 74.90 L495.10 76.43 L495.35 78.84 L495.60 81.72 L495.85 85.00 L495.90 85.70 L496.10 89.35 L496.35 94.26 L496.40 95.00 L496.60 97.55 L496.85 100.38 L497.10 102.74 L497.35 104.60 L497.40 104.90 L497.60 106.08 L497.85 107.48 L498.10 108.67 L498.35 109.49 L498.60 109.80 L498.85 109.62 L499.10 109.12 L499.35 108.40 L499.60 107.54 L499.85 106.64 L500.10 105.77 L500.35 105.03 L500.40 104.90 L500.60 104.38 L500.85 103.68 L501.10 102.95 L501.35 102.23 L501.60 101.57 L501.85 101.01 L502.10 100.59 L502.35 100.34 L502.50 100.30 L502.60 100.31 L502.85 100.42 L503.10 100.62 L503.35 100.92 L503.60 101.29 L503.85 101.72 L504.10 102.19 L504.35 102.69 L504.60 103.20 L504.85 103.80 L505.10 104.57 L505.35 105.48 L505.60 106.48 L505.85 107.55 L506.10 108.66 L506.35 109.78 L506.40 110.00 L506.60 111.07 L506.85 112.74 L507.10 114.40 L507.35 115.69 L507.60 116.20 L507.85 116.01 L508.10 115.52 L508.35 114.83 L508.60 114.02 L508.85 113.20 L509.10 112.46 L509.30 112.00 L509.35 111.90 L509.60 111.39 L509.85 110.85 L510.10 110.33 L510.35 109.86 L510.60 109.46 L510.85 109.17 L511.10 109.01 L511.20 109.00 L511.35 109.01 L511.60 109.06 L511.85 109.15 L512.10 109.28 L512.35 109.44 L512.60 109.63 L512.85 109.85 L513.10 110.09 L513.30 110.30 L513.35 110.36 L513.60 110.84 L513.85 111.57 L514.10 112.47 L514.35 113.47 L514.60 114.49 L514.85 115.47 L515.00 116.00 L515.10 116.36 L515.35 117.41 L515.60 118.53 L515.85 119.53 L516.10 120.21 L516.30 120.40 L516.35 120.39 L516.60 120.16 L516.85 119.66 L517.10 118.99 L517.35 118.23 L517.60 117.47 L517.85 116.81 L518.00 116.50 L518.10 116.31 L518.35 115.82 L518.60 115.32 L518.85 114.82 L519.10 114.37 L519.35 113.98 L519.60 113.70 L519.85 113.53 L520.00 113.50 L520.10 113.50 L520.35 113.56 L520.60 113.66 L520.85 113.80 L521.10 113.99 L521.35 114.21 L521.60 114.46 L521.85 114.73 L522.00 114.90 L522.10 115.04 L522.35 115.54 L522.60 116.24 L522.85 117.06 L523.10 117.95 L523.35 118.84 L523.60 119.69 L523.70 120.00 L523.85 120.50 L524.10 121.47 L524.35 122.43 L524.60 123.21 L524.85 123.59 L524.90 123.60 L525.10 123.52 L525.35 123.24 L525.60 122.80 L525.85 122.27 L526.10 121.70 L526.35 121.14 L526.60 120.66 L526.70 120.50 L526.85 120.27 L527.10 119.86 L527.35 119.44 L527.60 119.02 L527.85 118.62 L528.10 118.27 L528.35 117.99 L528.60 117.79 L528.85 117.70 L528.90 117.70 L529.10 117.72 L529.35 117.80 L529.60 117.94 L529.85 118.12 L530.10 118.35 L530.35 118.60 L530.60 118.88 L530.70 119.00 L530.85 119.23 L531.10 119.83 L531.35 120.62 L531.60 121.52 L531.85 122.47 L532.10 123.36 L532.30 124.00 L532.35 124.15 L532.60 125.01 L532.85 125.91 L533.10 126.70 L533.35 127.21 L533.50 127.30 L533.60 127.28 L533.85 127.06 L534.10 126.65 L534.35 126.12 L534.60 125.52 L534.85 124.91 L535.10 124.36 L535.30 124.00 L535.35 123.92 L535.60 123.50 L535.85 123.05 L536.10 122.59 L536.35 122.15 L536.60 121.75 L536.85 121.42 L537.10 121.17 L537.35 121.02 L537.50 121.00 L537.60 121.00 L537.85 121.04 L538.10 121.13 L538.35 121.25 L538.60 121.41 L538.85 121.59 L539.10 121.81 L539.35 122.05 L539.50 122.20 L539.60 122.34 L539.85 122.94 L540.10 123.77 L540.35 124.68 L540.60 125.51 L540.80 126.00 L540.85 126.10 L541.10 126.61 L541.35 127.08 L541.60 127.41 L541.80 127.50 L541.85 127.49 L542.10 127.28 L542.35 126.82 L542.60 126.19 L542.85 125.48 L543.10 124.77 L543.20 124.50 L543.35 124.08 L543.60 123.25 L543.85 122.35 L544.10 121.45 L544.35 120.62 L544.50 120.20 L544.60 119.94 L544.85 119.34 L545.10 118.78 L545.35 118.26 L545.60 117.76 L545.85 117.28 L546.10 116.79 L546.35 116.30 L546.50 116.00 L546.60 115.80 L546.85 115.33 L547.10 114.88 L547.35 114.44 L547.60 113.97 L547.85 113.45 L548.10 112.86 L548.20 112.60 L548.35 112.15 L548.60 111.24 L548.85 110.18 L549.10 109.03 L549.35 107.84 L549.60 106.67 L549.85 105.59 L550.00 105.00 L550.10 104.64 L550.35 103.78 L550.60 102.98 L550.85 102.19 L551.10 101.39 L551.35 100.55 L551.50 100.00 L551.60 99.62 L551.85 98.62 L552.10 97.56 L552.35 96.46 L552.60 95.33 L552.85 94.18 L553.10 93.02 L553.35 91.87 L553.60 90.74 L553.85 89.64 L554.00 89.00 L554.10 88.58 L554.35 87.50 L554.60 86.41 L554.85 85.31 L555.10 84.21 L555.35 83.12 L555.60 82.06 L555.85 81.03 L556.10 80.04 L556.35 79.11 L556.60 78.23 L556.85 77.44 L557.00 77.00 L557.10 76.72 L557.35 76.03 L557.60 75.36 L557.85 74.72 L558.10 74.10 L558.35 73.53 L558.60 72.99 L558.85 72.51 L559.10 72.07 L559.35 71.70 L559.50 71.50 L559.60 71.38 L559.85 71.07 L560.10 70.77 L560.35 70.48 L560.60 70.20 L560.85 69.94 L561.10 69.70 L561.35 69.49 L561.60 69.31 L561.85 69.17 L562.10 69.06 L562.35 69.01 L562.50 69.00 L562.60 69.00 L562.85 69.02 L563.10 69.04 L563.35 69.09 L563.60 69.14 L563.85 69.21 L564.10 69.29 L564.35 69.39 L564.60 69.49 L564.85 69.60 L565.10 69.73 L565.35 69.86 L565.60 70.00 L565.85 70.22 L566.10 70.56 L566.35 71.00 L566.60 71.49 L566.85 72.02 L567.10 72.55 L567.35 73.04 L567.50 73.30 L567.60 73.47 L567.85 73.92 L568.10 74.38 L568.35 74.84 L568.60 75.29 L568.85 75.71 L569.10 76.07 L569.35 76.36 L569.50 76.50 L569.60 76.58 L569.85 76.75 L570.10 76.91 L570.35 77.05 L570.60 77.17 L570.85 77.28 L571.10 77.39 L571.35 77.50 L571.60 77.61 L571.85 77.72 L572.00 77.80 L572.10 77.85 L572.35 77.97 L572.60 78.09 L572.85 78.20 L573.10 78.31 L573.35 78.43 L573.60 78.55 L573.85 78.70 L574.10 78.86 L574.30 79.00 L574.35 79.04 L574.60 79.28 L574.85 79.58 L575.10 79.93 L575.35 80.31 L575.60 80.71 L575.85 81.10 L576.10 81.48 L576.35 81.82 L576.50 82.00 L576.60 82.12 L576.85 82.42 L577.10 82.73 L577.35 83.03 L577.60 83.31 L577.85 83.57 L578.10 83.78 L578.35 83.94 L578.50 84.00 L578.60 84.03 L578.85 84.11 L579.10 84.17 L579.35 84.23 L579.60 84.28 L579.85 84.32 L580.10 84.36 L580.35 84.40 L580.60 84.44 L580.85 84.48 L581.00 84.50 L581.10 84.52 L581.35 84.55 L581.60 84.58 L581.85 84.61 L582.10 84.64 L582.35 84.67 L582.60 84.71 L582.85 84.76 L583.00 84.80 L583.10 84.83 L583.35 84.97 L583.60 85.17 L583.85 85.42 L584.10 85.71 L584.35 86.02 L584.60 86.34 L584.85 86.65 L585.10 86.93 L585.35 87.18 L585.50 87.30 L585.60 87.38 L585.85 87.57 L586.10 87.78 L586.35 87.97 L586.60 88.16 L586.85 88.31 L587.10 88.42 L587.35 88.49 L587.50 88.50 L587.60 88.50 L587.85 88.49 L588.10 88.48 L588.35 88.47 L588.60 88.45 L588.85 88.42 L589.10 88.40 L589.35 88.37 L589.60 88.34 L589.85 88.32 L590.00 88.30 L590.10 88.29 L590.35 88.25 L590.60 88.19 L590.85 88.14 L591.10 88.08 L591.35 88.04 L591.60 88.01 L591.80 88.00 L591.85 88.00 L592.10 88.09 L592.35 88.28 L592.60 88.55 L592.85 88.87 L593.10 89.22 L593.35 89.57 L593.60 89.90 L593.85 90.17 L594.00 90.30 L594.10 90.38 L594.35 90.58 L594.60 90.78 L594.85 90.98 L595.10 91.16 L595.35 91.31 L595.60 91.42 L595.85 91.49 L596.00 91.50 L596.10 91.50 L596.35 91.47 L596.60 91.43 L596.85 91.37 L597.10 91.29 L597.35 91.21 L597.60 91.11 L597.85 91.02 L598.10 90.93 L598.35 90.85 L598.50 90.80 L598.60 90.77 L598.85 90.68 L599.10 90.59 L599.35 90.49 L599.60 90.39 L599.85 90.31 L600.10 90.24 L600.35 90.21 L600.50 90.20 L600.60 90.21 L600.85 90.28 L601.10 90.43 L601.35 90.63 L601.60 90.87 L601.85 91.13 L602.10 91.40 L602.35 91.66 L602.60 91.90 L602.85 92.10 L603.00 92.20 L603.10 92.26 L603.35 92.41 L603.60 92.56 L603.85 92.70 L604.10 92.82 L604.35 92.92 L604.60 92.98 L604.80 93.00 L604.85 93.00 L605.10 92.96 L605.35 92.89 L605.60 92.77 L605.85 92.64 L606.10 92.49 L606.35 92.34 L606.60 92.20 L606.85 92.07 L607.00 92.00 L607.10 91.96 L607.35 91.85 L607.60 91.73 L607.85 91.60 L608.10 91.49 L608.35 91.38 L608.60 91.30 L608.85 91.24 L609.10 91.20 L609.20 91.20 L609.35 91.22 L609.60 91.32 L609.85 91.50 L610.10 91.73 L610.35 91.99 L610.60 92.26 L610.85 92.52 L611.10 92.75 L611.35 92.93 L611.50 93.00 L611.60 93.04 L611.85 93.13 L612.10 93.22 L612.35 93.30 L612.60 93.37 L612.85 93.43 L613.10 93.47 L613.35 93.50 L613.50 93.50 L613.60 93.50 L613.85 93.46 L614.10 93.40 L614.35 93.31 L614.60 93.20 L614.85 93.08 L615.10 92.95 L615.35 92.81 L615.60 92.68 L615.85 92.56 L616.00 92.50 L616.10 92.46 L616.35 92.36 L616.60 92.25 L616.85 92.15 L617.10 92.04 L617.35 91.94 L617.60 91.83 L617.85 91.72 L617.90 91.70" stroke="#ff0000"/>
<g fill="#ff0000" stroke="none"><circle cx="443.65" cy="138.80" r="3.35"/><circle cx="452.37" cy="143.32" r="3.35"/><circle cx="461.08" cy="174.59" r="3.35"/><circle cx="469.79" cy="105.81" r="3.35"/><circle cx="478.51" cy="121.46" r="3.35"/><circle cx="487.23" cy="91.45" r="3.35"/><circle cx="495.94" cy="84.66" r="3.35"/><circle cx="504.65" cy="103.21" r="3.35"/><circle cx="513.37" cy="110.75" r="3.35"/><circle cx="522.09" cy="114.92" r="3.35"/><circle cx="530.80" cy="119.32" r="3.35"/><circle cx="539.51" cy="122.39" r="3.35"/><circle cx="548.23" cy="112.85" r="3.35"/><circle cx="556.94" cy="77.02" r="3.35"/><circle cx="565.66" cy="70.01" r="3.35"/><circle cx="574.38" cy="79.02" r="3.35"/><circle cx="583.09" cy="84.82" r="3.35"/><circle cx="591.81" cy="87.99" r="3.35"/><circle cx="600.52" cy="90.19" r="3.35"/><circle cx="609.24" cy="91.20" r="3.35"/><circle cx="617.95" cy="91.70" r="3.35"/></g>
<path d="M443.65 206.40 L445.86 369.80 L448.06 317.00 L450.27 320.00 L452.48 365.50 L454.68 315.00 L456.89 305.30 L459.09 328.00 L461.30 309.80 L463.51 324.00 L465.71 345.00 L467.92 325.50 L470.13 316.00 L472.33 316.20 L474.54 303.30 L476.74 309.30 L478.95 326.50 L481.16 334.20 L483.36 338.20 L485.57 334.60 L487.78 322.00 L489.98 314.20 L492.19 316.50 L494.40 321.00 L496.60 328.30 L498.81 335.60 L501.01 326.40 L503.22 318.00 L505.43 311.90 L507.63 309.60 L509.84 312.90 L512.05 321.20 L514.25 330.90 L516.46 334.60 L518.67 329.90 L520.87 322.30 L523.08 316.60 L525.28 317.20 L527.49 323.90 L529.70 330.00 L531.90 333.50 L534.11 329.00 L536.32 320.50 L538.52 314.90 L540.73 313.30 L542.93 315.60 L545.14 322.50 L547.35 329.00 L549.55 331.40 L551.76 326.50 L553.97 319.90 L556.17 317.40 L558.38 317.70 L560.59 322.00 L562.79 328.00 L565.00 332.20 L567.20 329.50 L569.41 322.90 L571.62 317.90 L573.82 316.30 L576.03 318.90 L578.24 324.90 L580.44 328.90 L582.65 329.50 L584.86 326.20 L587.06 320.90 L589.27 318.50 L591.47 318.60 L593.68 323.20 L595.89 328.20 L598.09 330.50 L600.30 329.20 L602.51 324.20 L604.71 319.20 L606.92 318.40 L609.12 319.20 L611.33 323.20 L613.54 327.20 L615.74 328.20 L617.95 325.30" stroke="#0000ff"/>
<path d="M443.65 213.40 L445.86 373.50 L448.06 319.20 L450.27 322.00 L452.48 358.10 L454.68 306.90 L456.89 306.60 L459.09 332.60 L461.30 314.20 L463.51 322.00 L465.71 342.50 L467.92 320.50 L470.13 312.90 L472.33 316.00 L474.54 308.20 L476.74 315.90 L478.95 333.90 L481.16 334.50 L483.36 333.50 L485.57 332.30 L487.78 319.80 L489.98 315.30 L492.19 319.20 L494.40 324.20 L496.60 330.00 L498.81 333.00 L501.01 326.70 L503.22 318.60 L505.43 313.90 L507.63 312.90 L509.84 318.60 L512.05 327.30 L514.25 332.20 L516.46 331.60 L518.67 326.70 L520.87 320.60 L523.08 318.20 L525.28 320.60 L527.49 325.20 L529.70 330.00" stroke="#ff0000"/>
<g fill="#ff0000" stroke="none"><circle cx="443.65" cy="213.40" r="3.35"/><circle cx="445.86" cy="373.50" r="3.35"/><circle cx="448.06" cy="319.20" r="3.35"/><circle cx="450.27" cy="322.00" r="3.35"/><circle cx="452.48" cy="358.10" r="3.35"/><circle cx="454.68" cy="306.90" r="3.35"/><circle cx="456.89" cy="306.60" r="3.35"/><circle cx="459.09" cy="332.60" r="3.35"/><circle cx="461.30" cy="314.20" r="3.35"/><circle cx="463.51" cy="322.00" r="3.35"/><circle cx="465.71" cy="342.50" r="3.35"/><circle cx="467.92" cy="320.50" r="3.35"/><circle cx="470.13" cy="312.90" r="3.35"/><circle cx="472.33" cy="316.00" r="3.35"/><circle cx="474.54" cy="308.20" r="3.35"/><circle cx="476.74" cy="315.90" r="3.35"/><circle cx="478.95" cy="333.90" r="3.35"/><circle cx="481.16" cy="334.50" r="3.35"/><circle cx="483.36" cy="333.50" r="3.35"/><circle cx="485.57" cy="332.30" r="3.35"/><circle cx="487.78" cy="319.80" r="3.35"/><circle cx="489.98" cy="315.30" r="3.35"/><circle cx="492.19" cy="319.20" r="3.35"/><circle cx="494.40" cy="324.20" r="3.35"/><circle cx="496.60" cy="330.00" r="3.35"/><circle cx="498.81" cy="333.00" r="3.35"/><circle cx="501.01" cy="326.70" r="3.35"/><circle cx="503.22" cy="318.60" r="3.35"/><circle cx="505.43" cy="313.90" r="3.35"/><circle cx="507.63" cy="312.90" r="3.35"/><circle cx="509.84" cy="318.60" r="3.35"/><circle cx="512.05" cy="327.30" r="3.35"/><circle cx="514.25" cy="332.20" r="3.35"/><circle cx="516.46" cy="331.60" r="3.35"/><circle cx="518.67" cy="326.70" r="3.35"/><circle cx="520.87" cy="320.60" r="3.35"/><circle cx="523.08" cy="318.20" r="3.35"/><circle cx="525.28" cy="320.60" r="3.35"/><circle cx="527.49" cy="325.20" r="3.35"/><circle cx="529.70" cy="330.00" r="3.35"/></g>
<path d="M635.38 138.80 L635.62 138.83 L635.88 138.86 L636.12 138.90 L636.38 138.94 L636.62 138.98 L636.88 139.03 L637.12 139.08 L637.38 139.13 L637.62 139.19 L637.67 139.20 L637.88 139.25 L638.12 139.31 L638.38 139.37 L638.62 139.44 L638.88 139.52 L639.12 139.60 L639.38 139.68 L639.62 139.77 L639.88 139.87 L640.12 139.98 L640.17 140.00 L640.38 140.10 L640.62 140.23 L640.88 140.38 L641.12 140.55 L641.38 140.73 L641.62 140.93 L641.88 141.13 L642.12 141.34 L642.38 141.56 L642.62 141.79 L642.88 142.02 L643.12 142.25 L643.17 142.30 L643.38 142.50 L643.62 142.76 L643.88 143.05 L644.07 143.30 L644.12 143.36 L644.38 143.69 L644.62 144.02 L644.88 144.37 L645.12 144.73 L645.38 145.12 L645.62 145.52 L645.88 145.95 L646.12 146.41 L646.17 146.50 L646.38 146.89 L646.62 147.42 L646.88 147.99 L647.12 148.59 L647.38 149.23 L647.62 149.89 L647.88 150.58 L648.12 151.29 L648.38 152.01 L648.47 152.30 L648.62 152.74 L648.88 153.49 L649.12 154.25 L649.38 155.04 L649.62 155.87 L649.88 156.75 L650.12 157.69 L650.38 158.69 L650.62 159.77 L650.67 160.00 L650.88 160.98 L651.12 162.36 L651.38 163.90 L651.62 165.55 L651.88 167.29 L651.97 168.00 L652.12 169.32 L652.38 172.01 L652.62 174.15 L652.77 174.60 L652.88 174.44 L653.12 172.91 L653.38 170.33 L653.57 168.00 L653.62 167.38 L653.88 163.30 L654.12 158.04 L654.38 152.29 L654.47 150.00 L654.62 146.40 L654.88 139.82 L655.12 133.24 L655.17 132.00 L655.38 127.19 L655.62 121.38 L655.77 118.00 L655.88 115.77 L656.12 110.28 L656.38 105.00 L656.57 101.00 L656.62 99.97 L656.88 94.40 L657.07 92.00 L657.12 91.89 L657.38 91.46 L657.62 91.24 L657.77 91.20 L657.88 91.26 L658.12 91.83 L658.38 92.67 L658.47 93.00 L658.62 93.50 L658.88 94.45 L659.12 95.51 L659.38 96.65 L659.62 97.81 L659.88 98.98 L660.12 100.09 L660.17 100.30 L660.38 101.18 L660.62 102.34 L660.88 103.49 L661.12 104.54 L661.38 105.42 L661.47 105.70 L661.62 106.06 L661.88 106.57 L662.12 107.01 L662.38 107.43 L662.62 107.90 L662.67 108.00 L662.88 108.44 L663.12 109.02 L663.38 109.63 L663.62 110.27 L663.88 110.91 L664.12 111.55 L664.38 112.18 L664.62 112.79 L664.88 113.37 L665.12 113.90 L665.17 114.00 L665.38 114.39 L665.62 114.87 L665.88 115.33 L666.12 115.78 L666.38 116.22 L666.62 116.64 L666.88 117.05 L667.12 117.45 L667.38 117.84 L667.62 118.22 L667.88 118.58 L668.12 118.93 L668.17 119.00 L668.38 119.27 L668.62 119.60 L668.88 119.92 L669.12 120.23 L669.38 120.53 L669.62 120.82 L669.88 121.09 L670.12 121.35 L670.27 121.50 L670.38 121.60 L670.62 121.85 L670.88 122.08 L671.12 122.31 L671.38 122.50 L671.62 122.67 L671.67 122.70 L671.88 122.81 L672.12 122.95 L672.38 123.09 L672.62 123.22 L672.88 123.33 L673.12 123.41 L673.38 123.47 L673.62 123.50 L673.67 123.50 L673.88 123.48 L674.12 123.41 L674.38 123.29 L674.62 123.13 L674.88 122.94 L675.12 122.74 L675.17 122.70 L675.38 122.50 L675.62 122.14 L675.88 121.68 L676.12 121.12 L676.17 121.00 L676.38 120.42 L676.62 119.48 L676.88 118.27 L677.12 116.78 L677.38 115.00 L677.62 112.21 L677.88 108.30 L678.07 105.00 L678.12 104.16 L678.38 99.45 L678.57 96.00 L678.62 95.33 L678.88 92.58 L678.97 91.00 L679.12 85.78 L679.27 80.00 L679.38 77.58 L679.62 72.79 L679.77 70.00 L679.88 68.00 L680.12 63.00 L680.27 60.00 L680.38 58.00 L680.62 53.00 L680.77 50.00 L680.88 48.00 L681.12 43.00 L681.27 40.00 L681.38 38.03 L681.62 33.15 L681.77 30.00 L681.88 27.25 L682.12 20.60 L682.17 20.30 L682.38 22.74 L682.62 28.91 L682.67 30.00 L682.88 34.44 L683.12 40.07 L683.27 42.80 L683.38 44.20 L683.62 47.02 L683.88 50.00 L684.12 54.33 L684.17 55.00 L684.38 56.98 L684.62 58.89 L684.77 60.00 L684.88 60.76 L685.12 62.55 L685.38 64.29 L685.47 65.00 L685.62 66.06 L685.88 67.80 L686.12 69.62 L686.17 70.00 L686.38 71.58 L686.62 73.67 L686.77 75.00 L686.88 75.93 L687.12 78.43 L687.27 80.00 L687.38 81.15 L687.62 84.24 L687.77 85.60 L687.88 86.23 L688.12 87.55 L688.38 88.60 L688.62 89.49 L688.77 90.00 L688.88 90.33 L689.12 91.11 L689.38 91.83 L689.62 92.50 L689.88 93.13 L690.12 93.73 L690.38 94.31 L690.62 94.88 L690.67 95.00 L690.88 95.45 L691.12 96.00 L691.38 96.53 L691.62 97.03 L691.88 97.51 L691.97 97.70 L692.12 97.98 L692.38 98.43 L692.62 98.88 L692.88 99.31 L693.12 99.71 L693.38 100.09 L693.62 100.44 L693.67 100.50 L693.88 100.75 L694.12 101.03 L694.38 101.30 L694.62 101.56 L694.88 101.80 L695.12 102.03 L695.38 102.26 L695.62 102.49 L695.88 102.72 L696.12 102.96 L696.38 103.20 L696.62 103.45 L696.88 103.71 L697.12 103.96 L697.38 104.22 L697.62 104.48 L697.88 104.73 L698.12 104.99 L698.38 105.24 L698.62 105.48 L698.88 105.72 L699.12 105.95 L699.17 106.00 L699.38 106.18 L699.62 106.40 L699.88 106.62 L700.12 106.83 L700.38 107.04 L700.62 107.25 L700.88 107.46 L701.12 107.66 L701.38 107.86 L701.62 108.06 L701.88 108.26 L702.12 108.46 L702.17 108.50 L702.38 108.66 L702.62 108.87 L702.88 109.07 L703.12 109.28 L703.38 109.48 L703.62 109.69 L703.88 109.89 L704.12 110.08 L704.38 110.27 L704.62 110.44 L704.88 110.61 L705.12 110.77 L705.17 110.80 L705.38 110.92 L705.62 111.06 L705.88 111.19 L706.12 111.32 L706.38 111.44 L706.62 111.56 L706.88 111.67 L707.12 111.79 L707.38 111.90 L707.62 112.01 L707.88 112.12 L708.12 112.22 L708.38 112.33 L708.62 112.45 L708.88 112.56 L709.12 112.68 L709.17 112.70 L709.38 112.80 L709.62 112.91 L709.88 113.03 L710.12 113.15 L710.38 113.27 L710.62 113.39 L710.88 113.51 L711.12 113.63 L711.38 113.75 L711.62 113.87 L711.88 113.99 L712.12 114.11 L712.38 114.23 L712.62 114.35 L712.88 114.47 L713.12 114.59 L713.38 114.71 L713.62 114.83 L713.77 114.90 L713.88 114.95 L714.12 115.07 L714.38 115.18 L714.62 115.30 L714.88 115.42 L715.12 115.54 L715.38 115.65 L715.62 115.77 L715.88 115.89 L716.12 116.01 L716.38 116.12 L716.62 116.24 L716.88 116.36 L717.12 116.48 L717.38 116.60 L717.62 116.73 L717.88 116.85 L718.12 116.97 L718.17 117.00 L718.38 117.10 L718.62 117.23 L718.88 117.36 L719.12 117.50 L719.38 117.63 L719.62 117.77 L719.88 117.91 L720.12 118.05 L720.38 118.18 L720.62 118.32 L720.88 118.46 L721.12 118.60 L721.38 118.73 L721.62 118.86 L721.88 119.00 L722.12 119.12 L722.38 119.25 L722.47 119.30 L722.62 119.37 L722.88 119.50 L723.12 119.62 L723.38 119.74 L723.62 119.87 L723.88 119.99 L724.12 120.11 L724.38 120.22 L724.62 120.34 L724.88 120.45 L725.12 120.57 L725.38 120.67 L725.62 120.78 L725.88 120.88 L726.12 120.98 L726.17 121.00 L726.38 121.08 L726.62 121.17 L726.88 121.27 L727.12 121.36 L727.38 121.45 L727.62 121.54 L727.88 121.63 L728.12 121.71 L728.38 121.79 L728.62 121.86 L728.88 121.93 L729.12 121.99 L729.17 122.00 L729.38 122.05 L729.62 122.11 L729.88 122.16 L730.12 122.22 L730.38 122.27 L730.62 122.32 L730.88 122.36 L731.12 122.39 L731.38 122.40 L731.47 122.40 L731.62 122.40 L731.88 122.37 L732.12 122.32 L732.38 122.25 L732.62 122.16 L732.88 122.07 L733.12 121.96 L733.38 121.84 L733.62 121.72 L733.67 121.70 L733.88 121.59 L734.12 121.42 L734.38 121.21 L734.62 120.97 L734.88 120.71 L735.12 120.44 L735.38 120.15 L735.62 119.86 L735.67 119.80 L735.88 119.56 L736.12 119.22 L736.38 118.87 L736.62 118.49 L736.88 118.10 L737.12 117.69 L737.38 117.29 L737.62 116.88 L737.67 116.80 L737.88 116.49 L738.12 116.11 L738.38 115.74 L738.62 115.36 L738.88 114.97 L739.12 114.55 L739.38 114.10 L739.62 113.60 L739.88 113.04 L739.97 112.80 L740.12 112.39 L740.38 111.56 L740.62 110.58 L740.88 109.50 L741.12 108.38 L741.38 107.27 L741.62 106.20 L741.67 106.00 L741.88 105.20 L742.12 104.19 L742.38 103.19 L742.62 102.18 L742.88 101.18 L743.12 100.20 L743.17 100.00 L743.38 99.22 L743.62 98.27 L743.88 97.32 L744.12 96.36 L744.38 95.39 L744.47 95.00 L744.62 94.40 L744.88 93.40 L745.12 92.38 L745.38 91.35 L745.62 90.31 L745.88 89.27 L746.12 88.21 L746.17 88.00 L746.38 87.14 L746.62 86.04 L746.88 84.92 L747.12 83.78 L747.38 82.64 L747.62 81.51 L747.88 80.39 L748.12 79.29 L748.38 78.22 L748.62 77.20 L748.67 77.00 L748.88 76.19 L749.12 75.14 L749.38 74.10 L749.62 73.14 L749.88 72.29 L750.12 71.61 L750.17 71.50 L750.38 71.08 L750.62 70.59 L750.88 70.14 L751.12 69.73 L751.38 69.37 L751.62 69.06 L751.88 68.81 L752.12 68.63 L752.17 68.60 L752.38 68.49 L752.62 68.37 L752.88 68.26 L753.12 68.16 L753.38 68.08 L753.62 68.03 L753.88 68.00 L753.97 68.00 L754.12 68.01 L754.38 68.06 L754.62 68.15 L754.88 68.26 L755.12 68.39 L755.38 68.53 L755.62 68.67 L755.67 68.70 L755.88 68.81 L756.12 68.98 L756.38 69.16 L756.62 69.36 L756.88 69.56 L757.12 69.78 L757.38 70.00 L757.62 70.23 L757.88 70.47 L758.12 70.73 L758.38 71.00 L758.62 71.28 L758.88 71.56 L759.12 71.84 L759.38 72.13 L759.62 72.41 L759.88 72.68 L760.12 72.95 L760.17 73.00 L760.38 73.21 L760.62 73.46 L760.88 73.71 L761.12 73.96 L761.38 74.21 L761.62 74.46 L761.88 74.70 L762.12 74.95 L762.38 75.20 L762.62 75.45 L762.88 75.70 L763.12 75.95 L763.17 76.00 L763.38 76.21 L763.62 76.47 L763.88 76.74 L764.12 77.01 L764.38 77.28 L764.62 77.55 L764.88 77.82 L765.12 78.09 L765.38 78.34 L765.62 78.59 L765.88 78.82 L766.07 79.00 L766.12 79.04 L766.38 79.26 L766.62 79.46 L766.88 79.66 L767.12 79.86 L767.38 80.05 L767.62 80.24 L767.88 80.42 L768.12 80.60 L768.38 80.78 L768.62 80.95 L768.88 81.13 L769.12 81.30 L769.38 81.47 L769.62 81.63 L769.88 81.80 L770.12 81.97 L770.17 82.00 L770.38 82.13 L770.62 82.30 L770.88 82.47 L771.12 82.63 L771.38 82.80 L771.62 82.96 L771.88 83.12 L772.12 83.28 L772.38 83.44 L772.62 83.59 L772.88 83.75 L773.12 83.90 L773.38 84.04 L773.62 84.19 L773.88 84.33 L774.12 84.47 L774.38 84.60 L774.62 84.73 L774.77 84.80 L774.88 84.85 L775.12 84.97 L775.38 85.09 L775.62 85.20 L775.88 85.32 L776.12 85.43 L776.38 85.54 L776.62 85.65 L776.88 85.76 L777.12 85.86 L777.38 85.96 L777.62 86.06 L777.88 86.16 L778.12 86.26 L778.38 86.36 L778.62 86.45 L778.88 86.54 L779.12 86.63 L779.38 86.72 L779.62 86.81 L779.88 86.90 L780.12 86.98 L780.17 87.00 L780.38 87.07 L780.62 87.15 L780.88 87.23 L781.12 87.30 L781.38 87.38 L781.62 87.45 L781.88 87.52 L782.12 87.59 L782.38 87.66 L782.62 87.73 L782.88 87.80 L783.12 87.87 L783.38 87.94 L783.57 88.00 L783.62 88.01 L783.88 88.09 L784.12 88.16 L784.38 88.23 L784.62 88.30 L784.88 88.37 L785.12 88.44 L785.38 88.51 L785.62 88.58 L785.88 88.65 L786.12 88.72 L786.38 88.79 L786.62 88.86 L786.88 88.92 L787.12 88.99 L787.17 89.00 L787.38 89.05 L787.62 89.12 L787.88 89.18 L788.12 89.24 L788.38 89.31 L788.62 89.37 L788.88 89.43 L789.12 89.50 L789.38 89.56 L789.62 89.62 L789.88 89.68 L790.12 89.74 L790.38 89.80 L790.62 89.86 L790.88 89.91 L791.12 89.97 L791.38 90.02 L791.62 90.07 L791.88 90.12 L792.12 90.17 L792.27 90.20 L792.38 90.22 L792.62 90.26 L792.88 90.31 L793.12 90.35 L793.38 90.40 L793.62 90.44 L793.88 90.48 L794.12 90.52 L794.38 90.56 L794.62 90.60 L794.88 90.63 L795.12 90.67 L795.38 90.70 L795.62 90.74 L795.88 90.77 L796.12 90.79 L796.17 90.80 L796.38 90.82 L796.62 90.85 L796.88 90.87 L797.12 90.90 L797.38 90.92 L797.62 90.94 L797.88 90.96 L798.12 90.98 L798.38 91.00 L798.62 91.02 L798.88 91.04 L799.12 91.06 L799.38 91.08 L799.62 91.10 L799.88 91.12 L800.12 91.14 L800.38 91.15 L800.62 91.17 L800.88 91.19 L800.97 91.20 L801.12 91.21 L801.38 91.23 L801.62 91.25 L801.88 91.27 L802.12 91.29 L802.38 91.31 L802.62 91.33 L802.88 91.35 L803.12 91.37 L803.38 91.38 L803.62 91.40 L803.88 91.42 L804.12 91.44 L804.38 91.45 L804.62 91.47 L804.88 91.48 L805.12 91.50 L805.17 91.50 L805.38 91.51 L805.62 91.52 L805.88 91.54 L806.12 91.55 L806.38 91.56 L806.62 91.58 L806.88 91.59 L807.12 91.60 L807.38 91.61 L807.62 91.62 L807.88 91.63 L808.12 91.64 L808.38 91.65 L808.62 91.66 L808.88 91.67 L809.12 91.68 L809.38 91.69 L809.62 91.70 L809.67 91.70" stroke="#0000ff"/>
<path d="M635.40 138.80 L635.65 137.38 L635.90 136.16 L636.15 135.13 L636.40 134.28 L636.65 133.60 L636.90 133.09 L637.15 132.74 L637.40 132.55 L637.60 132.50 L637.65 132.51 L637.90 132.89 L638.15 133.71 L638.40 134.82 L638.65 136.09 L638.90 137.38 L639.15 138.54 L639.40 139.44 L639.65 139.94 L639.76 140.00 L639.90 139.93 L640.15 139.47 L640.40 138.69 L640.65 137.71 L640.90 136.65 L641.15 135.62 L641.40 134.74 L641.65 134.13 L641.90 133.90 L642.15 134.25 L642.40 135.19 L642.65 136.54 L642.90 138.13 L643.15 139.80 L643.40 141.35 L643.65 142.64 L643.90 143.47 L644.10 143.70 L644.15 143.69 L644.40 143.35 L644.65 142.65 L644.90 141.71 L645.15 140.69 L645.40 139.73 L645.65 138.96 L645.90 138.54 L646.00 138.50 L646.15 138.66 L646.40 139.58 L646.65 141.13 L646.90 143.08 L647.15 145.25 L647.40 147.42 L647.65 149.37 L647.90 150.92 L648.15 151.84 L648.30 152.00 L648.40 151.98 L648.65 151.82 L648.90 151.53 L649.15 151.16 L649.40 150.77 L649.65 150.41 L649.90 150.13 L650.15 150.00 L650.20 150.00 L650.40 150.86 L650.65 153.72 L650.90 157.42 L651.15 160.78 L651.20 161.30 L651.40 163.38 L651.65 166.17 L651.90 168.95 L652.15 171.46 L652.40 173.42 L652.65 174.59 L652.80 174.80 L652.90 174.69 L653.15 173.58 L653.40 171.46 L653.65 168.61 L653.90 165.27 L654.15 161.71 L654.20 161.00 L654.40 157.77 L654.65 152.30 L654.80 148.00 L654.90 143.57 L655.15 127.39 L655.30 120.00 L655.40 117.02 L655.65 111.08 L655.90 106.58 L656.00 105.00 L656.15 102.70 L656.40 99.05 L656.65 95.81 L656.90 93.15 L657.15 91.27 L657.20 91.00 L657.40 90.03 L657.65 88.94 L657.90 88.09 L658.15 87.59 L658.30 87.50 L658.40 87.54 L658.65 87.93 L658.90 88.66 L659.15 89.58 L659.40 90.60 L659.50 91.00 L659.65 91.64 L659.90 92.92 L660.15 94.43 L660.40 96.12 L660.65 97.95 L660.90 99.90 L661.15 102.80 L661.40 105.47 L661.50 105.80 L661.65 105.73 L661.90 105.32 L662.15 104.69 L662.40 103.95 L662.65 103.24 L662.90 102.68 L663.15 102.41 L663.20 102.40 L663.40 102.63 L663.65 103.46 L663.90 104.69 L664.15 106.11 L664.40 107.50 L664.50 108.00 L664.65 108.81 L664.90 110.46 L665.15 112.24 L665.40 113.86 L665.65 115.04 L665.90 115.50 L666.15 115.03 L666.40 113.81 L666.65 112.16 L666.90 110.39 L667.15 108.80 L667.40 107.71 L667.60 107.40 L667.65 107.41 L667.90 107.81 L668.15 108.66 L668.40 109.82 L668.65 111.14 L668.90 112.49 L669.00 113.00 L669.15 113.90 L669.40 115.87 L669.65 118.06 L669.90 120.01 L670.15 121.26 L670.30 121.50 L670.40 121.37 L670.65 120.04 L670.90 117.70 L671.15 114.85 L671.40 112.00 L671.65 109.66 L671.90 108.33 L672.00 108.20 L672.15 108.34 L672.40 109.10 L672.65 110.38 L672.90 111.97 L673.15 113.70 L673.40 115.38 L673.50 116.00 L673.65 117.05 L673.90 119.22 L674.15 121.41 L674.40 123.02 L674.60 123.50 L674.65 123.45 L674.90 121.98 L675.15 119.09 L675.40 115.65 L675.65 112.51 L675.70 112.00 L675.90 109.94 L676.15 107.23 L676.40 104.65 L676.65 102.47 L676.90 101.00 L677.15 100.18 L677.40 99.61 L677.65 99.06 L677.90 98.30 L678.15 97.26 L678.40 95.97 L678.65 94.30 L678.90 92.13 L679.00 91.10 L679.15 88.79 L679.40 82.78 L679.50 80.00 L679.65 74.43 L679.90 65.00 L680.15 59.76 L680.40 55.56 L680.65 52.11 L680.90 49.12 L681.00 48.00 L681.15 46.27 L681.40 43.32 L681.65 40.63 L681.90 38.60 L682.15 37.63 L682.20 37.60 L682.40 37.76 L682.65 38.37 L682.90 39.37 L683.15 40.71 L683.40 42.30 L683.50 43.00 L683.65 44.56 L683.90 48.80 L684.15 53.97 L684.20 55.00 L684.40 59.63 L684.65 66.19 L684.80 70.00 L684.90 72.49 L685.15 78.82 L685.40 84.00 L685.65 88.16 L685.90 90.30 L686.15 90.17 L686.40 89.83 L686.65 89.39 L686.70 89.30 L686.90 88.69 L687.15 87.52 L687.40 86.36 L687.65 85.72 L687.70 85.70 L687.90 86.10 L688.15 87.55 L688.40 89.80 L688.65 92.56 L688.90 95.54 L689.15 98.44 L689.40 100.98 L689.65 102.87 L689.90 103.81 L689.97 103.87 L690.15 103.74 L690.40 103.19 L690.65 102.32 L690.90 101.27 L691.15 100.16 L691.40 99.13 L691.65 98.32 L691.90 97.85 L692.02 97.79 L692.15 97.88 L692.40 98.54 L692.65 99.69 L692.90 101.17 L693.15 102.84 L693.40 104.52 L693.65 106.06 L693.90 107.30 L694.15 108.07 L694.33 108.26 L694.40 108.24 L694.65 107.93 L694.90 107.31 L695.15 106.48 L695.40 105.57 L695.65 104.67 L695.90 103.91 L696.15 103.38 L696.38 103.21 L696.40 103.21 L696.65 103.52 L696.90 104.28 L697.15 105.37 L697.40 106.65 L697.65 108.00 L697.90 109.29 L698.15 110.39 L698.40 111.18 L698.65 111.54 L698.69 111.54 L698.90 111.42 L699.15 111.00 L699.40 110.38 L699.65 109.64 L699.90 108.88 L700.15 108.18 L700.40 107.65 L700.65 107.37 L700.74 107.34 L700.90 107.43 L701.15 107.88 L701.40 108.62 L701.65 109.54 L701.90 110.56 L702.15 111.58 L702.40 112.49 L702.65 113.21 L702.90 113.64 L703.05 113.71 L703.15 113.69 L703.40 113.48 L703.65 113.09 L703.90 112.60 L704.15 112.06 L704.40 111.54 L704.65 111.11 L704.90 110.83 L705.10 110.75 L705.15 110.76 L705.40 110.97 L705.65 111.42 L705.90 112.03 L706.15 112.74 L706.40 113.47 L706.65 114.17 L706.90 114.75 L707.15 115.16 L707.40 115.31 L707.40 115.31 L707.65 115.21 L707.90 114.94 L708.15 114.56 L708.40 114.12 L708.65 113.68 L708.90 113.28 L709.15 112.98 L709.40 112.84 L709.45 112.83 L709.65 112.91 L709.90 113.19 L710.15 113.62 L710.40 114.15 L710.65 114.73 L710.90 115.31 L711.15 115.81 L711.40 116.20 L711.65 116.41 L711.76 116.44 L711.90 116.42 L712.15 116.29 L712.40 116.09 L712.65 115.83 L712.90 115.55 L713.15 115.29 L713.40 115.08 L713.65 114.94 L713.81 114.92 L713.90 114.93 L714.15 115.09 L714.40 115.39 L714.65 115.78 L714.90 116.24 L715.15 116.70 L715.40 117.14 L715.65 117.49 L715.90 117.73 L716.12 117.80 L716.15 117.80 L716.40 117.76 L716.65 117.67 L716.90 117.54 L717.15 117.40 L717.40 117.25 L717.65 117.12 L717.90 117.03 L718.15 117.00 L718.17 117.00 L718.40 117.07 L718.65 117.27 L718.90 117.58 L719.15 117.95 L719.40 118.34 L719.65 118.72 L719.90 119.06 L720.15 119.31 L720.40 119.43 L720.48 119.44 L720.65 119.44 L720.90 119.43 L721.15 119.41 L721.40 119.39 L721.65 119.37 L721.90 119.35 L722.15 119.33 L722.40 119.33 L722.52 119.32 L722.65 119.34 L722.90 119.46 L723.15 119.66 L723.40 119.93 L723.65 120.23 L723.90 120.54 L724.15 120.82 L724.40 121.05 L724.65 121.20 L724.83 121.24 L724.90 121.24 L725.15 121.24 L725.40 121.25 L725.65 121.25 L725.90 121.25 L726.15 121.26 L726.40 121.26 L726.65 121.26 L726.88 121.27 L726.90 121.27 L727.15 121.32 L727.40 121.44 L727.65 121.60 L727.90 121.79 L728.15 121.99 L728.40 122.17 L728.65 122.34 L728.90 122.45 L729.15 122.50 L729.19 122.50 L729.40 122.50 L729.65 122.50 L729.90 122.49 L730.15 122.47 L730.40 122.46 L730.65 122.44 L730.90 122.42 L731.15 122.40 L731.24 122.39 L731.40 122.38 L731.65 122.35 L731.90 122.31 L732.15 122.26 L732.40 122.21 L732.65 122.15 L732.68 122.14 L732.90 122.08 L733.15 121.98 L733.40 121.86 L733.65 121.72 L733.90 121.57 L734.12 121.42 L734.15 121.40 L734.40 121.20 L734.65 120.97 L734.90 120.71 L735.15 120.42 L735.40 120.13 L735.60 119.89 L735.65 119.83 L735.90 119.50 L736.15 119.16 L736.40 118.79 L736.65 118.42 L736.90 118.04 L737.04 117.84 L737.15 117.67 L737.40 117.29 L737.65 116.91 L737.90 116.52 L738.15 116.12 L738.40 115.71 L738.47 115.59 L738.65 115.30 L738.90 114.89 L739.15 114.48 L739.40 114.04 L739.65 113.55 L739.90 112.99 L739.95 112.85 L740.15 112.29 L740.40 111.40 L740.65 110.39 L740.90 109.30 L741.15 108.20 L741.39 107.19 L741.40 107.16 L741.65 106.15 L741.90 105.13 L742.15 104.11 L742.40 103.09 L742.65 102.08 L742.83 101.36 L742.90 101.09 L743.15 100.11 L743.40 99.16 L743.65 98.20 L743.90 97.25 L744.15 96.28 L744.31 95.64 L744.40 95.29 L744.65 94.30 L744.90 93.29 L745.15 92.28 L745.40 91.25 L745.65 90.21 L745.75 89.79 L745.90 89.15 L746.15 88.07 L746.40 86.98 L746.65 85.87 L746.90 84.76 L747.15 83.66 L747.19 83.49 L747.40 82.56 L747.65 81.44 L747.90 80.32 L748.15 79.22 L748.40 78.14 L748.65 77.10 L748.67 77.02 L748.90 76.07 L749.15 75.02 L749.40 73.99 L749.65 73.04 L749.90 72.21 L750.11 71.65 L750.15 71.55 L750.40 70.99 L750.65 70.47 L750.90 70.02 L751.15 69.62 L751.40 69.30 L751.55 69.15 L751.65 69.05 L751.90 68.83 L752.15 68.62 L752.40 68.45 L752.65 68.31 L752.90 68.22 L753.03 68.20 L753.15 68.18 L753.40 68.15 L753.65 68.13 L753.90 68.11 L754.15 68.09 L754.40 68.09 L754.47 68.09 L754.65 68.11 L754.90 68.19 L755.15 68.33 L755.40 68.49 L755.65 68.66 L755.90 68.83 L755.90 68.83 L756.15 69.00 L756.40 69.18 L756.65 69.37 L756.90 69.58 L757.15 69.80 L757.38 70.01 L757.40 70.02 L757.65 70.26 L757.90 70.51 L758.15 70.77 L758.40 71.04 L758.65 71.31 L758.82 71.50 L758.90 71.58 L759.15 71.86 L759.40 72.14 L759.65 72.42 L759.90 72.70 L760.15 72.97 L760.26 73.09 L760.40 73.23 L760.65 73.49 L760.90 73.74 L761.15 73.99 L761.40 74.23 L761.65 74.48 L761.74 74.57 L761.90 74.73 L762.15 74.98 L762.40 75.22 L762.65 75.47 L762.90 75.72 L763.15 75.97 L763.18 76.01 L763.40 76.24 L763.65 76.50 L763.90 76.78 L764.15 77.05 L764.40 77.32 L764.62 77.55 L764.65 77.58 L764.90 77.84 L765.15 78.10 L765.40 78.35 L765.65 78.60 L765.90 78.84 L766.10 79.02 L766.15 79.07 L766.40 79.28 L766.65 79.49 L766.90 79.69 L767.15 79.88 L767.40 80.07 L767.54 80.17 L767.65 80.26 L767.90 80.44 L768.15 80.62 L768.40 80.80 L768.65 80.97 L768.90 81.14 L768.98 81.20 L769.15 81.31 L769.40 81.48 L769.65 81.65 L769.90 81.82 L770.15 81.98 L770.40 82.15 L770.46 82.19 L770.65 82.32 L770.90 82.48 L771.15 82.65 L771.40 82.81 L771.65 82.98 L771.90 83.13 L771.90 83.14 L772.15 83.30 L772.40 83.45 L772.65 83.61 L772.90 83.76 L773.15 83.91 L773.33 84.02 L773.40 84.06 L773.65 84.20 L773.90 84.34 L774.15 84.48 L774.40 84.61 L774.65 84.74 L774.81 84.82 L774.90 84.86 L775.15 84.98 L775.40 85.10 L775.65 85.22 L775.90 85.33 L776.15 85.44 L776.25 85.49 L776.40 85.55 L776.65 85.66 L776.90 85.77 L777.15 85.87 L777.40 85.97 L777.65 86.07 L777.69 86.09 L777.90 86.17 L778.15 86.27 L778.40 86.37 L778.65 86.46 L778.90 86.55 L779.15 86.64 L779.17 86.65 L779.40 86.73 L779.65 86.82 L779.90 86.91 L780.15 86.99 L780.40 87.07 L780.61 87.14 L780.65 87.16 L780.90 87.23 L781.15 87.31 L781.40 87.38 L781.65 87.46 L781.90 87.53 L782.05 87.57 L782.15 87.60 L782.40 87.67 L782.65 87.74 L782.90 87.81 L783.15 87.88 L783.40 87.95 L783.53 87.99 L783.65 88.02 L783.90 88.09 L784.15 88.16 L784.40 88.24 L784.65 88.31 L784.90 88.38 L784.97 88.40 L785.15 88.45 L785.40 88.52 L785.65 88.59 L785.90 88.66 L786.15 88.73 L786.40 88.80 L786.41 88.80 L786.65 88.86 L786.90 88.93 L787.15 88.99 L787.40 89.06 L787.65 89.12 L787.89 89.18 L787.90 89.19 L788.15 89.25 L788.40 89.31 L788.65 89.38 L788.90 89.44 L789.15 89.50 L789.33 89.55 L789.40 89.57 L789.65 89.63 L789.90 89.69 L790.15 89.75 L790.40 89.81 L790.65 89.86 L790.76 89.89 L790.90 89.92 L791.15 89.97 L791.40 90.03 L791.65 90.08 L791.90 90.13 L792.15 90.18 L792.24 90.19 L792.40 90.22 L792.65 90.27 L792.90 90.31 L793.15 90.36 L793.40 90.40 L793.65 90.44 L793.68 90.45 L793.90 90.48 L794.15 90.52 L794.40 90.56 L794.65 90.60 L794.90 90.64 L795.12 90.67 L795.15 90.67 L795.40 90.71 L795.65 90.74 L795.90 90.77 L796.15 90.80 L796.40 90.82 L796.60 90.85 L796.65 90.85 L796.90 90.87 L797.15 90.90 L797.40 90.92 L797.65 90.94 L797.90 90.96 L798.04 90.98 L798.15 90.99 L798.40 91.01 L798.65 91.03 L798.90 91.04 L799.15 91.06 L799.40 91.08 L799.48 91.09 L799.65 91.10 L799.90 91.12 L800.15 91.14 L800.40 91.16 L800.65 91.18 L800.90 91.19 L800.96 91.20 L801.15 91.21 L801.40 91.23 L801.65 91.25 L801.90 91.27 L802.15 91.29 L802.40 91.31 L802.40 91.31 L802.65 91.33 L802.90 91.35 L803.15 91.37 L803.40 91.39 L803.65 91.40 L803.84 91.42 L803.90 91.42 L804.15 91.44 L804.40 91.45 L804.65 91.47 L804.90 91.48 L805.15 91.50 L805.32 91.51 L805.40 91.51 L805.65 91.53 L805.90 91.54 L806.15 91.55 L806.40 91.56 L806.65 91.58 L806.76 91.58 L806.90 91.59 L807.15 91.60 L807.40 91.61 L807.65 91.62 L807.90 91.63 L808.15 91.65 L808.19 91.65 L808.40 91.66 L808.65 91.66 L808.90 91.67 L809.15 91.68 L809.40 91.69 L809.65 91.70 L809.67 91.70" stroke="#ff0000"/>
<g fill="#ff0000" stroke="none"><circle cx="635.38" cy="138.80" r="3.35"/><circle cx="639.73" cy="139.81" r="3.35"/><circle cx="644.09" cy="143.32" r="3.35"/><circle cx="648.45" cy="152.22" r="3.35"/><circle cx="652.80" cy="174.59" r="3.35"/><circle cx="657.16" cy="91.81" r="3.35"/><circle cx="661.52" cy="105.81" r="3.35"/><circle cx="665.88" cy="115.34" r="3.35"/><circle cx="670.23" cy="121.46" r="3.35"/><circle cx="674.59" cy="123.15" r="3.35"/><circle cx="678.95" cy="91.45" r="3.35"/><circle cx="683.31" cy="43.28" r="3.35"/><circle cx="687.66" cy="84.66" r="3.35"/><circle cx="692.02" cy="97.79" r="3.35"/><circle cx="696.38" cy="103.21" r="3.35"/><circle cx="700.74" cy="107.34" r="3.35"/><circle cx="705.10" cy="110.75" r="3.35"/><circle cx="709.45" cy="112.83" r="3.35"/><circle cx="713.81" cy="114.92" r="3.35"/><circle cx="718.17" cy="117.00" r="3.35"/><circle cx="722.52" cy="119.32" r="3.35"/><circle cx="726.88" cy="121.27" r="3.35"/><circle cx="731.24" cy="122.39" r="3.35"/><circle cx="735.60" cy="119.89" r="3.35"/><circle cx="739.95" cy="112.85" r="3.35"/><circle cx="744.31" cy="95.64" r="3.35"/><circle cx="748.67" cy="77.02" r="3.35"/><circle cx="753.03" cy="68.20" r="3.35"/><circle cx="757.38" cy="70.01" r="3.35"/><circle cx="761.74" cy="74.57" r="3.35"/><circle cx="766.10" cy="79.02" r="3.35"/><circle cx="770.46" cy="82.19" r="3.35"/><circle cx="774.81" cy="84.82" r="3.35"/><circle cx="779.17" cy="86.65" r="3.35"/><circle cx="783.53" cy="87.99" r="3.35"/><circle cx="787.89" cy="89.18" r="3.35"/><circle cx="792.24" cy="90.19" r="3.35"/><circle cx="796.60" cy="90.85" r="3.35"/><circle cx="800.96" cy="91.20" r="3.35"/><circle cx="805.32" cy="91.51" r="3.35"/><circle cx="809.67" cy="91.70" r="3.35"/></g>
<path d="M635.38 206.40 L637.58 369.80 L639.79 317.00 L641.99 320.00 L644.20 365.50 L646.41 315.00 L648.61 305.30 L650.82 328.00 L653.03 309.80 L655.23 324.00 L657.44 345.00 L659.64 325.50 L661.85 316.00 L664.06 316.20 L666.26 303.30 L668.47 309.30 L670.68 326.50 L672.88 334.20 L675.09 338.20 L677.30 334.60 L679.50 322.00 L681.71 314.20 L683.91 316.50 L686.12 321.00 L688.33 328.30 L690.53 335.60 L692.74 326.40 L694.95 318.00 L697.15 311.90 L699.36 309.60 L701.56 312.90 L703.77 321.20 L705.98 330.90 L708.18 334.60 L710.39 329.90 L712.60 322.30 L714.80 316.60 L717.01 317.20 L719.22 323.90 L721.42 330.00 L723.63 333.50 L725.83 329.00 L728.04 320.50 L730.25 314.90 L732.45 313.30 L734.66 315.60 L736.87 322.50 L739.07 329.00 L741.28 331.40 L743.49 326.50 L745.69 319.90 L747.90 317.40 L750.10 317.70 L752.31 322.00 L754.52 328.00 L756.72 332.20 L758.93 329.50 L761.14 322.90 L763.34 317.90 L765.55 316.30 L767.75 318.90 L769.96 324.90 L772.17 328.90 L774.37 329.50 L776.58 326.20 L778.79 320.90 L780.99 318.50 L783.20 318.60 L785.41 323.20 L787.61 328.20 L789.82 330.50 L792.02 329.20 L794.23 324.20 L796.44 319.20 L798.64 318.40 L800.85 319.20 L803.06 323.20 L805.26 327.20 L807.47 328.20 L809.67 325.30" stroke="#0000ff"/>
<path d="M635.38 205.10 L637.58 366.30 L639.79 317.50 L641.99 320.00 L644.20 367.70 L646.41 315.00 L648.61 308.30 L650.82 328.00 L653.03 307.50 L655.23 319.00 L657.44 342.50 L659.64 326.00 L661.85 318.20 L664.06 321.50 L666.26 304.50 L668.47 309.00 L670.68 327.00 L672.88 332.00 L675.09 337.50 L677.30 339.50 L679.50 326.50 L681.71 316.50 L683.91 317.50 L686.12 319.00 L688.33 326.50 L690.53 334.00 L692.74 331.00 L694.95 323.50 L697.15 316.50 L699.36 310.50 L701.56 312.50 L703.77 321.50 L705.98 329.50 L708.18 334.00 L710.39 332.00 L712.60 325.00 L714.80 318.50 L717.01 317.50 L719.22 321.50 L721.42 327.50 L723.63 332.50 L725.83 330.50 L728.04 324.50 L730.25 318.00 L732.45 314.00 L734.66 315.50 L736.87 321.50 L739.07 327.80 L741.28 330.50 L743.49 329.00 L745.69 323.00 L747.90 319.00 L750.10 318.50 L752.31 321.50 L754.52 327.00 L756.72 330.50 L758.93 329.50 L761.14 324.50 L763.34 319.00 L765.55 317.00 L767.75 318.50 L769.96 323.50 L772.17 328.00 L774.37 329.50 L776.58 326.50 L778.79 321.50 L780.99 319.00 L783.20 319.00 L785.41 322.50 L787.61 327.50 L789.82 329.50 L792.02 328.50 L794.23 324.00 L796.44 320.00 L798.64 318.50 L800.85 319.50 L803.06 323.50 L805.26 326.50 L807.47 327.50 L809.67 326.00" stroke="#ff0000"/>
<g fill="#ff0000" stroke="none"><circle cx="635.38" cy="205.10" r="3.35"/><circle cx="637.58" cy="366.30" r="3.35"/><circle cx="639.79" cy="317.50" r="3.35"/><circle cx="641.99" cy="320.00" r="3.35"/><circle cx="644.20" cy="367.70" r="3.35"/><circle cx="646.41" cy="315.00" r="3.35"/><circle cx="648.61" cy="308.30" r="3.35"/><circle cx="650.82" cy="328.00" r="3.35"/><circle cx="653.03" cy="307.50" r="3.35"/><circle cx="655.23" cy="319.00" r="3.35"/><circle cx="657.44" cy="342.50" r="3.35"/><circle cx="659.64" cy="326.00" r="3.35"/><circle cx="661.85" cy="318.20" r="3.35"/><circle cx="664.06" cy="321.50" r="3.35"/><circle cx="666.26" cy="304.50" r="3.35"/><circle cx="668.47" cy="309.00" r="3.35"/><circle cx="670.68" cy="327.00" r="3.35"/><circle cx="672.88" cy="332.00" r="3.35"/><circle cx="675.09" cy="337.50" r="3.35"/><circle cx="677.30" cy="339.50" r="3.35"/><circle cx="679.50" cy="326.50" r="3.35"/><circle cx="681.71" cy="316.50" r="3.35"/><circle cx="683.91" cy="317.50" r="3.35"/><circle cx="686.12" cy="319.00" r="3.35"/><circle cx="688.33" cy="326.50" r="3.35"/><circle cx="690.53" cy="334.00" r="3.35"/><circle cx="692.74" cy="331.00" r="3.35"/><circle cx="694.95" cy="323.50" r="3.35"/><circle cx="697.15" cy="316.50" r="3.35"/><circle cx="699.36" cy="310.50" r="3.35"/><circle cx="701.56" cy="312.50" r="3.35"/><circle cx="703.77" cy="321.50" r="3.35"/><circle cx="705.98" cy="329.50" r="3.35"/><circle cx="708.18" cy="334.00" r="3.35"/><circle cx="710.39" cy="332.00" r="3.35"/><circle cx="712.60" cy="325.00" r="3.35"/><circle cx="714.80" cy="318.50" r="3.35"/><circle cx="717.01" cy="317.50" r="3.35"/><circle cx="719.22" cy="321.50" r="3.35"/><circle cx="721.42" cy="327.50" r="3.35"/><circle cx="723.63" cy="332.50" r="3.35"/><circle cx="725.83" cy="330.50" r="3.35"/><circle cx="728.04" cy="324.50" r="3.35"/><circle cx="730.25" cy="318.00" r="3.35"/><circle cx="732.45" cy="314.00" r="3.35"/><circle cx="734.66" cy="315.50" r="3.35"/><circle cx="736.87" cy="321.50" r="3.35"/><circle cx="739.07" cy="327.80" r="3.35"/><circle cx="741.28" cy="330.50" r="3.35"/><circle cx="743.49" cy="329.00" r="3.35"/><circle cx="745.69" cy="323.00" r="3.35"/><circle cx="747.90" cy="319.00" r="3.35"/><circle cx="750.10" cy="318.50" r="3.35"/><circle cx="752.31" cy="321.50" r="3.35"/><circle cx="754.52" cy="327.00" r="3.35"/><circle cx="756.72" cy="330.50" r="3.35"/><circle cx="758.93" cy="329.50" r="3.35"/><circle cx="761.14" cy="324.50" r="3.35"/><circle cx="763.34" cy="319.00" r="3.35"/><circle cx="765.55" cy="317.00" r="3.35"/><circle cx="767.75" cy="318.50" r="3.35"/><circle cx="769.96" cy="323.50" r="3.35"/><circle cx="772.17" cy="328.00" r="3.35"/><circle cx="774.37" cy="329.50" r="3.35"/><circle cx="776.58" cy="326.50" r="3.35"/><circle cx="778.79" cy="321.50" r="3.35"/><circle cx="780.99" cy="319.00" r="3.35"/><circle cx="783.20" cy="319.00" r="3.35"/><circle cx="785.41" cy="322.50" r="3.35"/><circle cx="787.61" cy="327.50" r="3.35"/><circle cx="789.82" cy="329.50" r="3.35"/><circle cx="792.02" cy="328.50" r="3.35"/><circle cx="794.23" cy="324.00" r="3.35"/><circle cx="796.44" cy="320.00" r="3.35"/><circle cx="798.64" cy="318.50" r="3.35"/><circle cx="800.85" cy="319.50" r="3.35"/><circle cx="803.06" cy="323.50" r="3.35"/><circle cx="805.26" cy="326.50" r="3.35"/><circle cx="807.47" cy="327.50" r="3.35"/><circle cx="809.67" cy="326.00" r="3.35"/></g>
</g>
<g fill="none" stroke="#000" stroke-width="1.3" stroke-linecap="square">
<rect x="51.50" y="11.40" width="191.72" height="185.00"/>
<rect x="51.50" y="196.40" width="191.72" height="185.55"/>
<rect x="243.22" y="11.40" width="191.72" height="185.00"/>
<rect x="243.22" y="196.40" width="191.72" height="185.55"/>
<rect x="434.95" y="11.40" width="191.72" height="185.00"/>
<rect x="434.95" y="196.40" width="191.72" height="185.55"/>
<rect x="626.67" y="11.40" width="191.72" height="185.00"/>
<rect x="626.67" y="196.40" width="191.72" height="185.55"/>
</g>
<g font-family="'DejaVu Sans', 'Liberation Sans', sans-serif" font-size="16.50" fill="#000" stroke="#000" stroke-width="0.3">
<text transform="translate(24.00 103.80) rotate(-90)" text-anchor="middle">Magnitude</text>
<text transform="translate(41.70 103.90) rotate(-90)" text-anchor="middle">(dB)</text>
<text transform="translate(24.00 290.70) rotate(-90)" text-anchor="middle">Waveform</text>
<text transform="translate(41.70 288.60) rotate(-90)" text-anchor="middle">(amplitude)</text>
<text x="120.70" y="399.5"><tspan font-style="italic">N</tspan><tspan x="135.60">=</tspan><tspan x="152.60">10</tspan></text>
<text x="312.43" y="399.5"><tspan font-style="italic">N</tspan><tspan x="327.32">=</tspan><tspan x="344.32">20</tspan></text>
<text x="504.15" y="399.5"><tspan font-style="italic">N</tspan><tspan x="519.05">=</tspan><tspan x="536.05">40</tspan></text>
<text x="695.88" y="399.5"><tspan font-style="italic">N</tspan><tspan x="710.77">=</tspan><tspan x="727.77">80</tspan></text>
<rect x="214.6" y="413.9" width="402.5" height="28.4" rx="3.3" ry="3.3" fill="#fff" stroke="#d2d2d2" stroke-width="1.45"/>
<path d="M221 426.9 H253" stroke="#0000ff" stroke-width="2.75" stroke-linecap="square" fill="none"/>
<text x="266.1" y="432.2" font-size="16.3">Original Filter</text>
<path d="M406.4 426.9 H438.4" stroke="#ff0000" stroke-width="2.75" stroke-linecap="square" fill="none"/>
<text x="450.9" y="432.2" font-size="16.35">Frequency-Sampled</text>
</g>
</svg>
</body></html>
